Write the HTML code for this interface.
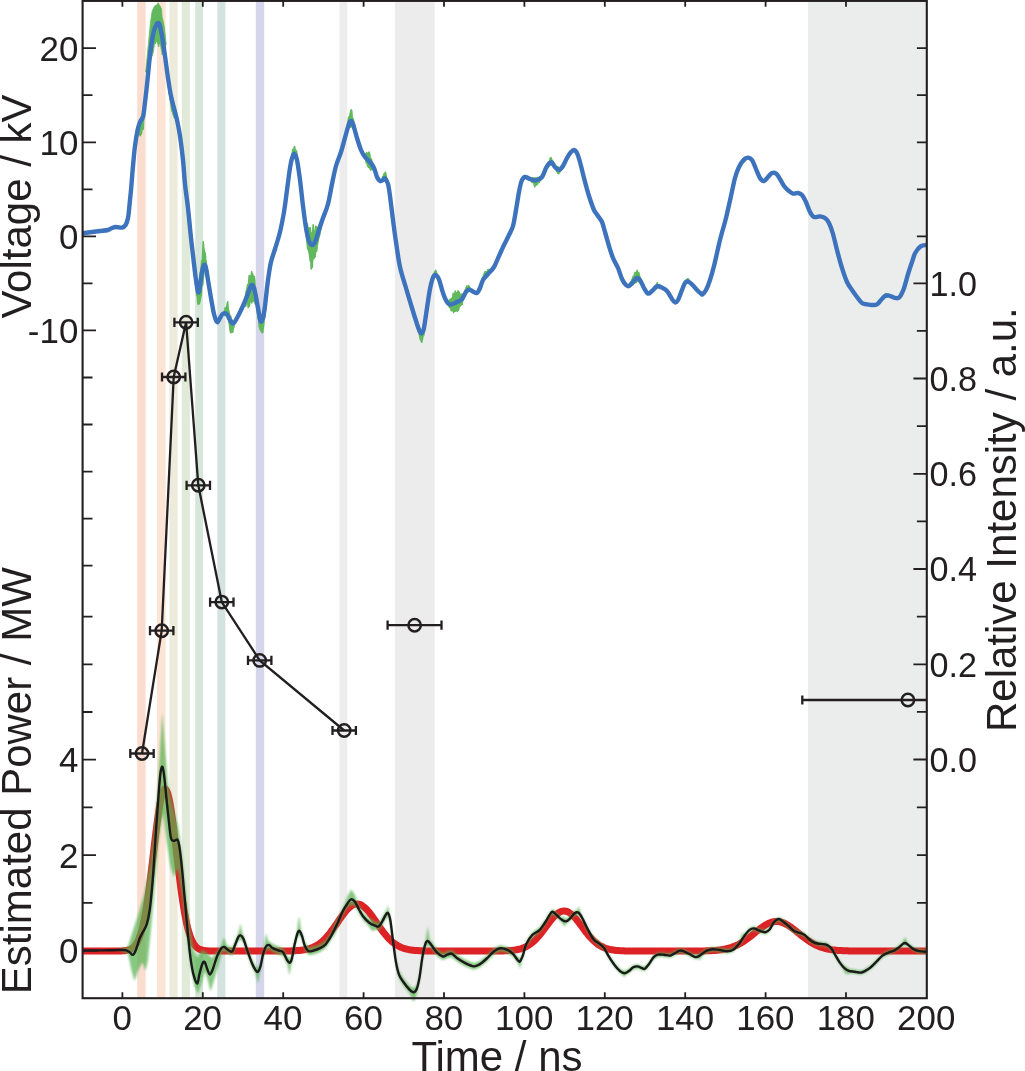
<!DOCTYPE html>
<html lang="en"><head><meta charset="utf-8"><title>Voltage, intensity and power vs time</title>
<style>html,body{margin:0;padding:0;background:#fff}svg{display:block}</style></head>
<body>
<svg width="1025" height="1071" viewBox="0 0 1025 1071">
<defs><clipPath id="cp"><rect x="82.6" y="0.9" width="844.2" height="1001.3"/></clipPath>
<filter id="b1" x="-5%" y="-5%" width="110%" height="110%"><feGaussianBlur stdDeviation="0.7"/></filter>
<filter id="b2" x="-5%" y="-20%" width="110%" height="140%"><feGaussianBlur stdDeviation="1.1"/></filter><filter id="b3" x="-5%" y="-20%" width="110%" height="140%"><feGaussianBlur stdDeviation="0.55"/></filter></defs>
<rect width="1025" height="1071" fill="#fff"/>
<g filter="url(#b1)">
<rect x="137.2" y="0.9" width="8.4" height="997.3" fill="#fbddd0"/>
<rect x="157.0" y="0.9" width="8.6" height="997.3" fill="#fde4d5"/>
<rect x="169.4" y="0.9" width="8.2" height="997.3" fill="#ecebdc"/>
<rect x="181.8" y="0.9" width="8.1" height="997.3" fill="#e1ead9"/>
<rect x="195.2" y="0.9" width="7.8" height="997.3" fill="#d7e6da"/>
<rect x="217.3" y="0.9" width="8.1" height="997.3" fill="#d4e3e0"/>
<rect x="255.8" y="0.9" width="8.4" height="997.3" fill="#d5d6ec"/>
<rect x="339.4" y="0.9" width="7.9" height="997.3" fill="#ededed"/>
<rect x="394.9" y="0.9" width="39.8" height="997.3" fill="#ececec"/>
<rect x="808.0" y="0.9" width="119.2" height="997.3" fill="#ebeded"/>
</g>
<g clip-path="url(#cp)">
<path d="M82.7 232.3L83.2 232.5L83.7 232.5L84.2 232.7L84.7 232.4L85.2 232.3L85.7 232.2L86.2 232.2L86.7 232.1L87.2 232.1L87.7 232.2L88.2 231.8L88.7 231.7L89.2 231.5L89.7 231.7L90.2 231.7L90.7 231.6L91.2 231.7L91.7 231.3L92.2 231.5L92.7 231.5L93.2 231.3L93.7 231.0L94.2 231.1L94.7 231.2L95.2 231.1L95.7 230.8L96.2 230.9L96.7 230.9L97.2 230.8L97.7 230.6L98.2 230.3L98.7 230.7L99.2 230.6L99.7 230.6L100.2 230.7L100.7 230.5L101.2 230.4L101.7 230.0L102.2 230.1L102.7 230.3L103.2 229.9L103.7 230.0L104.2 230.1L104.7 229.9L105.2 229.8L105.7 229.8L106.2 229.6L106.7 229.9L107.2 229.5L107.7 229.3L108.2 229.2L108.7 228.9L109.2 228.6L109.7 228.3L110.2 228.5L110.7 227.9L111.2 228.1L111.7 227.6L112.2 227.6L112.7 227.1L113.2 226.9L113.7 227.0L114.2 226.6L114.7 226.8L115.2 226.6L115.7 226.5L116.2 226.6L116.7 226.4L117.2 226.2L117.7 226.7L118.2 226.5L118.7 226.7L119.2 226.5L119.7 226.7L120.2 226.7L120.7 226.8L121.2 226.9L121.7 227.2L122.2 226.6L122.7 226.7L123.2 226.1L123.7 225.7L124.2 225.5L124.7 225.0L125.2 224.5L125.7 224.1L126.2 222.8L126.7 221.6L127.2 219.9L127.7 218.4L128.2 215.7L128.7 211.4L129.2 206.8L129.7 202.5L130.2 197.4L130.7 192.3L131.2 187.1L131.7 181.0L132.2 174.7L132.7 168.9L133.2 163.6L133.7 158.4L134.2 153.3L134.7 148.2L135.2 144.1L135.7 141.2L136.2 138.1L136.7 134.8L137.2 131.8L137.7 129.1L138.2 127.3L138.7 125.3L139.2 122.9L139.7 121.4L140.2 119.2L140.7 117.8L141.2 116.8L141.7 116.9L142.2 114.9L142.7 115.6L143.2 113.4L143.7 110.6L144.2 107.6L144.7 103.8L145.2 99.8L145.7 95.4L146.2 90.9L146.7 86.6L147.2 82.2L147.7 77.5L148.2 72.4L148.7 67.7L149.2 63.1L149.7 58.1L150.2 53.0L150.7 48.2L151.2 43.0L151.7 40.1L152.2 37.6L152.7 32.8L153.2 27.3L153.7 24.3L154.2 19.7L154.7 21.8L155.2 16.2L155.7 14.7L156.2 14.1L156.7 9.8L157.2 10.0L157.7 13.7L158.2 6.8L158.7 15.1L159.2 11.5L159.7 14.5L160.2 16.3L160.7 22.1L161.2 23.3L161.7 26.4L162.2 27.6L162.7 35.1L163.2 37.7L163.7 42.4L164.2 47.7L164.7 48.5L165.2 55.1L165.7 60.3L166.2 64.0L166.7 68.0L167.2 71.5L167.7 75.1L168.2 78.6L168.7 81.4L169.2 84.2L169.7 87.0L170.2 90.3L170.7 93.1L171.2 95.1L171.7 96.4L172.2 98.6L172.7 100.2L173.2 102.9L173.7 105.5L174.2 107.5L174.7 110.2L175.2 112.1L175.7 114.2L176.2 116.2L176.7 118.1L177.2 120.6L177.7 123.2L178.2 126.0L178.7 128.5L179.2 131.1L179.7 133.7L180.2 137.1L180.7 140.7L181.2 144.8L181.7 149.0L182.2 153.1L182.7 157.0L183.2 161.8L183.7 167.8L184.2 173.7L184.7 179.7L185.2 184.8L185.7 188.8L186.2 193.0L186.7 196.9L187.2 201.1L187.7 205.1L188.2 209.1L188.7 214.5L189.2 219.1L189.7 224.5L190.2 229.4L190.7 234.2L191.2 239.1L191.7 243.4L192.2 247.8L192.7 252.2L193.2 256.5L193.7 260.9L194.2 264.8L194.7 269.0L195.2 272.4L195.7 277.2L196.2 279.8L196.7 282.4L197.2 285.5L197.7 287.6L198.2 289.0L198.7 288.4L199.2 286.8L199.7 281.2L200.2 277.4L200.7 271.4L201.2 267.5L201.7 260.7L202.2 262.1L202.7 254.7L203.2 241.9L203.7 247.6L204.2 250.4L204.7 252.0L205.2 253.4L205.7 259.4L206.2 261.8L206.7 269.2L207.2 274.6L207.7 277.3L208.2 281.0L208.7 283.7L209.2 286.6L209.7 289.7L210.2 292.6L210.7 295.7L211.2 298.6L211.7 300.8L212.2 303.7L212.7 306.5L213.2 308.9L213.7 311.8L214.2 313.8L214.7 315.2L215.2 316.4L215.7 318.1L216.2 319.2L216.7 320.6L217.2 321.3L217.7 320.3L218.2 319.9L218.7 318.9L219.2 318.4L219.7 317.7L220.2 317.1L220.7 316.2L221.2 315.9L221.7 314.9L222.2 314.3L222.7 313.4L223.2 313.0L223.7 313.0L224.2 313.0L224.7 310.2L225.2 307.9L225.7 309.3L226.2 308.0L226.7 306.5L227.2 303.7L227.7 301.8L228.2 309.9L228.7 310.3L229.2 313.0L229.7 314.8L230.2 317.1L230.7 316.3L231.2 319.4L231.7 319.7L232.2 320.8L232.7 322.3L233.2 322.5L233.7 321.9L234.2 321.1L234.7 320.7L235.2 320.1L235.7 319.2L236.2 318.5L236.7 317.9L237.2 316.8L237.7 316.0L238.2 314.9L238.7 314.1L239.2 313.0L239.7 312.0L240.2 311.3L240.7 310.0L241.2 309.3L241.7 308.0L242.2 307.1L242.7 305.4L243.2 304.5L243.7 303.1L244.2 300.5L244.7 299.6L245.2 298.7L245.7 294.9L246.2 291.3L246.7 290.4L247.2 287.2L247.7 284.6L248.2 287.5L248.7 281.7L249.2 275.5L249.7 279.8L250.2 282.2L250.7 276.0L251.2 275.5L251.7 271.7L252.2 275.8L252.7 274.0L253.2 282.3L253.7 276.1L254.2 276.5L254.7 279.5L255.2 288.0L255.7 287.8L256.2 295.7L256.7 294.8L257.2 298.7L257.7 303.2L258.2 305.3L258.7 308.5L259.2 310.1L259.7 313.0L260.2 315.2L260.7 318.9L261.2 317.5L261.7 316.4L262.2 315.3L262.7 315.2L263.2 312.8L263.7 311.7L264.2 308.6L264.7 305.5L265.2 302.5L265.7 298.2L266.2 294.5L266.7 290.0L267.2 286.4L267.7 281.8L268.2 278.2L268.7 275.0L269.2 272.4L269.7 269.1L270.2 266.3L270.7 263.2L271.2 260.6L271.7 259.3L272.2 257.7L272.7 256.0L273.2 254.2L273.7 252.9L274.2 251.0L274.7 249.6L275.2 247.9L275.7 246.1L276.2 244.3L276.7 242.7L277.2 241.0L277.7 239.2L278.2 237.6L278.7 236.2L279.2 234.2L279.7 232.4L280.2 230.2L280.7 227.6L281.2 225.3L281.7 222.9L282.2 220.5L282.7 217.9L283.2 215.3L283.7 212.7L284.2 210.1L284.7 206.2L285.2 202.5L285.7 198.7L286.2 195.2L286.7 191.7L287.2 188.0L287.7 184.3L288.2 180.7L288.7 176.8L289.2 173.1L289.7 169.5L290.2 166.3L290.7 164.2L291.2 160.2L291.7 157.2L292.2 153.5L292.7 149.5L293.2 149.5L293.7 151.3L294.2 146.8L294.7 147.0L295.2 150.6L295.7 151.1L296.2 150.5L296.7 152.1L297.2 157.9L297.7 161.1L298.2 166.0L298.7 170.9L299.2 174.1L299.7 177.4L300.2 181.1L300.7 185.7L301.2 189.9L301.7 194.0L302.2 198.3L302.7 202.5L303.2 206.8L303.7 208.4L304.2 211.6L304.7 216.1L305.2 216.8L305.7 221.0L306.2 222.1L306.7 224.5L307.2 223.6L307.7 226.8L308.2 229.4L308.7 228.0L309.2 230.6L309.7 232.3L310.2 227.7L310.7 232.5L311.2 233.4L311.7 233.2L312.2 236.1L312.7 232.5L313.2 224.7L313.7 233.7L314.2 231.0L314.7 234.2L315.2 232.4L315.7 226.2L316.2 227.0L316.7 229.6L317.2 227.4L317.7 228.1L318.2 227.1L318.7 226.4L319.2 225.5L319.7 223.3L320.2 222.4L320.7 222.0L321.2 221.8L321.7 221.5L322.2 219.8L322.7 218.4L323.2 216.7L323.7 215.4L324.2 213.9L324.7 212.7L325.2 211.5L325.7 209.7L326.2 208.3L326.7 207.3L327.2 205.6L327.7 204.1L328.2 202.6L328.7 199.6L329.2 197.5L329.7 195.1L330.2 192.2L330.7 189.9L331.2 187.5L331.7 184.8L332.2 182.8L332.7 180.0L333.2 178.1L333.7 175.7L334.2 173.6L334.7 171.2L335.2 168.9L335.7 166.9L336.2 164.7L336.7 163.5L337.2 162.1L337.7 160.7L338.2 159.4L338.7 158.0L339.2 156.3L339.7 155.1L340.2 153.5L340.7 152.2L341.2 150.8L341.7 149.2L342.2 147.2L342.7 145.2L343.2 143.5L343.7 141.8L344.2 139.7L344.7 138.3L345.2 136.5L345.7 133.7L346.2 129.7L346.7 128.1L347.2 127.0L347.7 122.8L348.2 120.1L348.7 117.1L349.2 117.3L349.7 116.7L350.2 113.5L350.7 111.7L351.2 109.8L351.7 110.6L352.2 117.3L352.7 118.3L353.2 119.5L353.7 122.2L354.2 124.0L354.7 126.7L355.2 129.6L355.7 132.3L356.2 134.6L356.7 136.5L357.2 138.2L357.7 139.7L358.2 141.2L358.7 142.8L359.2 143.9L359.7 145.5L360.2 147.1L360.7 148.6L361.2 150.0L361.7 150.8L362.2 151.2L362.7 152.7L363.2 153.2L363.7 154.0L364.2 154.4L364.7 154.7L365.2 154.0L365.7 155.3L366.2 153.8L366.7 152.6L367.2 155.5L367.7 155.2L368.2 153.8L368.7 152.4L369.2 152.1L369.7 154.4L370.2 157.5L370.7 159.3L371.2 158.9L371.7 160.1L372.2 162.8L372.7 163.2L373.2 164.5L373.7 165.8L374.2 168.1L374.7 169.4L375.2 171.2L375.7 172.6L376.2 174.0L376.7 175.3L377.2 176.3L377.7 177.3L378.2 177.9L378.7 178.5L379.2 179.5L379.7 179.9L380.2 180.5L380.7 179.9L381.2 179.8L381.7 179.8L382.2 179.1L382.7 176.7L383.2 176.4L383.7 175.3L384.2 173.5L384.7 175.5L385.2 172.4L385.7 173.5L386.2 176.1L386.7 178.0L387.2 180.5L387.7 181.5L388.2 184.6L388.7 187.6L389.2 190.7L389.7 193.5L390.2 196.8L390.7 200.9L391.2 204.9L391.7 208.8L392.2 212.8L392.7 217.0L393.2 220.9L393.7 224.6L394.2 228.2L394.7 231.8L395.2 235.4L395.7 239.3L396.2 242.6L396.7 245.9L397.2 248.7L397.7 252.1L398.2 255.1L398.7 258.4L399.2 261.4L399.7 264.6L400.2 266.8L400.7 268.8L401.2 270.6L401.7 272.5L402.2 274.2L402.7 275.8L403.2 277.4L403.7 279.6L404.2 281.2L404.7 282.9L405.2 284.7L405.7 286.6L406.2 288.1L406.7 289.6L407.2 291.6L407.7 293.0L408.2 294.6L408.7 296.3L409.2 298.1L409.7 299.4L410.2 301.3L410.7 303.2L411.2 304.6L411.7 306.6L412.2 307.9L412.7 309.8L413.2 311.1L413.7 312.9L414.2 314.3L414.7 315.9L415.2 317.6L415.7 319.2L416.2 320.7L416.7 322.7L417.2 323.7L417.7 324.8L418.2 325.9L418.7 327.0L419.2 327.6L419.7 329.5L420.2 330.0L420.7 330.4L421.2 329.9L421.7 332.0L422.2 330.2L422.7 330.0L423.2 329.4L423.7 327.9L424.2 325.7L424.7 322.5L425.2 319.4L425.7 315.9L426.2 312.7L426.7 309.4L427.2 306.5L427.7 302.9L428.2 299.6L428.7 296.7L429.2 293.7L429.7 290.5L430.2 287.4L430.7 285.8L431.2 283.9L431.7 282.0L432.2 279.5L432.7 277.4L433.2 275.8L433.7 275.3L434.2 273.6L434.7 271.8L435.2 271.8L435.7 270.3L436.2 272.1L436.7 273.2L437.2 274.3L437.7 275.5L438.2 276.2L438.7 277.7L439.2 279.6L439.7 281.2L440.2 283.0L440.7 284.6L441.2 286.3L441.7 288.0L442.2 289.9L442.7 291.3L443.2 292.7L443.7 294.2L444.2 294.9L444.7 296.2L445.2 297.4L445.7 298.7L446.2 299.4L446.7 300.9L447.2 301.2L447.7 300.5L448.2 301.1L448.7 301.0L449.2 301.1L449.7 300.1L450.2 299.2L450.7 299.2L451.2 298.8L451.7 299.1L452.2 297.8L452.7 298.5L453.2 293.4L453.7 295.8L454.2 299.3L454.7 297.1L455.2 291.0L455.7 296.8L456.2 294.5L456.7 292.8L457.2 296.0L457.7 291.9L458.2 290.9L458.7 295.5L459.2 292.4L459.7 295.7L460.2 295.9L460.7 294.3L461.2 294.4L461.7 295.5L462.2 294.0L462.7 295.7L463.2 294.7L463.7 294.3L464.2 292.8L464.7 291.2L465.2 289.8L465.7 290.0L466.2 287.5L466.7 286.2L467.2 288.1L467.7 287.2L468.2 285.8L468.7 285.9L469.2 286.8L469.7 287.5L470.2 288.5L470.7 289.6L471.2 290.0L471.7 290.4L472.2 290.5L472.7 290.8L473.2 290.6L473.7 291.1L474.2 291.4L474.7 291.6L475.2 291.7L475.7 292.0L476.2 292.0L476.7 292.3L477.2 291.9L477.7 291.3L478.2 290.3L478.7 289.4L479.2 288.6L479.7 287.0L480.2 285.5L480.7 284.1L481.2 282.5L481.7 281.9L482.2 277.9L482.7 278.1L483.2 277.1L483.7 274.3L484.2 276.1L484.7 272.0L485.2 271.9L485.7 271.5L486.2 272.1L486.7 272.8L487.2 273.0L487.7 269.8L488.2 271.1L488.7 270.9L489.2 269.4L489.7 270.4L490.2 270.0L490.7 269.8L491.2 269.6L491.7 269.2L492.2 268.6L492.7 267.7L493.2 267.2L493.7 267.1L494.2 266.3L494.7 264.8L495.2 263.8L495.7 262.7L496.2 261.4L496.7 260.7L497.2 259.2L497.7 258.2L498.2 257.1L498.7 256.0L499.2 254.8L499.7 253.9L500.2 252.8L500.7 251.5L501.2 250.5L501.7 249.6L502.2 248.2L502.7 247.1L503.2 245.9L503.7 245.0L504.2 243.9L504.7 243.1L505.2 242.1L505.7 241.0L506.2 240.0L506.7 239.1L507.2 237.7L507.7 237.2L508.2 236.1L508.7 235.1L509.2 233.8L509.7 232.9L510.2 231.7L510.7 230.7L511.2 229.6L511.7 228.5L512.2 227.0L512.7 226.0L513.2 224.2L513.7 221.8L514.2 218.6L514.7 216.5L515.2 214.0L515.7 211.0L516.2 208.2L516.7 205.1L517.2 202.4L517.7 199.1L518.2 195.9L518.7 193.3L519.2 190.7L519.7 188.7L520.2 186.3L520.7 184.1L521.2 182.0L521.7 180.2L522.2 179.5L522.7 179.1L523.2 178.4L523.7 178.1L524.2 177.5L524.7 176.7L525.2 176.6L525.7 176.6L526.2 176.7L526.7 177.0L527.2 177.4L527.7 177.6L528.2 177.5L528.7 178.0L529.2 178.1L529.7 178.3L530.2 178.4L530.7 178.4L531.2 178.6L531.7 178.8L532.2 178.1L532.7 178.4L533.2 178.2L533.7 178.4L534.2 178.1L534.7 177.9L535.2 177.8L535.7 178.5L536.2 178.5L536.7 178.0L537.2 177.9L537.7 177.6L538.2 178.0L538.7 178.3L539.2 177.3L539.7 177.0L540.2 177.0L540.7 176.6L541.2 176.7L541.7 176.6L542.2 175.8L542.7 174.8L543.2 173.5L543.7 172.5L544.2 171.4L544.7 170.3L545.2 169.2L545.7 168.3L546.2 167.1L546.7 166.7L547.2 165.6L547.7 164.2L548.2 162.4L548.7 161.8L549.2 161.5L549.7 161.5L550.2 158.1L550.7 160.4L551.2 157.9L551.7 161.1L552.2 160.2L552.7 160.9L553.2 162.3L553.7 163.6L554.2 165.0L554.7 166.1L555.2 166.2L555.7 166.4L556.2 166.7L556.7 166.7L557.2 167.4L557.7 166.7L558.2 166.9L558.7 168.4L559.2 168.3L559.7 167.7L560.2 167.9L560.7 167.0L561.2 167.0L561.7 166.7L562.2 166.1L562.7 165.5L563.2 165.2L563.7 163.9L564.2 163.0L564.7 162.0L565.2 160.9L565.7 160.1L566.2 159.2L566.7 158.2L567.2 157.1L567.7 156.3L568.2 155.6L568.7 154.9L569.2 154.1L569.7 153.2L570.2 152.5L570.7 152.0L571.2 151.3L571.7 150.8L572.2 150.7L572.7 150.3L573.2 149.9L573.7 149.8L574.2 149.5L574.7 150.4L575.2 150.4L575.7 151.2L576.2 151.8L576.7 152.1L577.2 153.3L577.7 154.4L578.2 155.9L578.7 157.6L579.2 159.1L579.7 160.4L580.2 162.3L580.7 164.2L581.2 166.1L581.7 168.0L582.2 170.3L582.7 172.2L583.2 174.0L583.7 176.6L584.2 178.2L584.7 180.2L585.2 182.0L585.7 183.2L586.2 185.3L586.7 186.9L587.2 189.0L587.7 190.6L588.2 192.6L588.7 194.4L589.2 196.0L589.7 197.3L590.2 198.5L590.7 200.2L591.2 201.5L591.7 203.0L592.2 204.3L592.7 206.0L593.2 207.0L593.7 208.6L594.2 209.7L594.7 210.5L595.2 211.1L595.7 211.9L596.2 212.7L596.7 213.4L597.2 214.1L597.7 214.8L598.2 215.6L598.7 216.3L599.2 217.0L599.7 217.9L600.2 218.9L600.7 219.2L601.2 219.9L601.7 221.0L602.2 222.1L602.7 224.0L603.2 225.3L603.7 227.2L604.2 228.5L604.7 230.8L605.2 232.1L605.7 233.7L606.2 235.7L606.7 237.5L607.2 239.1L607.7 240.9L608.2 242.7L608.7 244.4L609.2 246.1L609.7 247.5L610.2 248.9L610.7 250.6L611.2 252.0L611.7 253.6L612.2 254.9L612.7 256.7L613.2 257.7L613.7 259.2L614.2 259.9L614.7 261.0L615.2 261.6L615.7 262.8L616.2 264.0L616.7 264.9L617.2 265.6L617.7 266.8L618.2 267.9L618.7 269.6L619.2 270.9L619.7 272.0L620.2 273.1L620.7 274.9L621.2 276.1L621.7 277.7L622.2 278.5L622.7 279.5L623.2 280.3L623.7 281.2L624.2 281.8L624.7 282.4L625.2 283.0L625.7 284.1L626.2 284.3L626.7 284.7L627.2 284.8L627.7 285.1L628.2 285.4L628.7 285.5L629.2 285.0L629.7 284.7L630.2 283.5L630.7 281.7L631.2 282.6L631.7 279.9L632.2 279.7L632.7 278.1L633.2 276.3L633.7 276.5L634.2 275.7L634.7 273.4L635.2 272.5L635.7 273.9L636.2 272.4L636.7 274.1L637.2 270.3L637.7 274.7L638.2 273.5L638.7 272.5L639.2 274.5L639.7 276.4L640.2 277.8L640.7 279.2L641.2 279.8L641.7 281.7L642.2 283.5L642.7 284.4L643.2 285.9L643.7 286.9L644.2 287.7L644.7 288.4L645.2 289.0L645.7 289.8L646.2 290.4L646.7 291.1L647.2 291.9L647.7 292.9L648.2 292.8L648.7 292.7L649.2 292.3L649.7 291.9L650.2 291.8L650.7 291.4L651.2 290.9L651.7 290.7L652.2 290.2L652.7 289.9L653.2 289.3L653.7 288.9L654.2 287.9L654.7 286.9L655.2 286.3L655.7 286.2L656.2 284.8L656.7 283.8L657.2 282.8L657.7 284.1L658.2 284.7L658.7 285.5L659.2 284.6L659.7 286.1L660.2 286.6L660.7 286.7L661.2 287.1L661.7 286.8L662.2 287.1L662.7 287.4L663.2 288.0L663.7 288.2L664.2 288.4L664.7 288.7L665.2 288.8L665.7 289.4L666.2 290.2L666.7 290.2L667.2 290.8L667.7 291.4L668.2 292.3L668.7 293.1L669.2 294.0L669.7 294.6L670.2 295.3L670.7 296.4L671.2 297.4L671.7 298.1L672.2 298.4L672.7 299.2L673.2 299.8L673.7 300.5L674.2 300.7L674.7 301.4L675.2 301.7L675.7 301.3L676.2 300.9L676.7 300.5L677.2 300.0L677.7 299.5L678.2 299.2L678.7 297.9L679.2 296.4L679.7 295.1L680.2 294.1L680.7 292.8L681.2 291.5L681.7 290.2L682.2 289.0L682.7 287.8L683.2 286.5L683.7 285.3L684.2 284.2L684.7 282.9L685.2 282.0L685.7 281.3L686.2 280.3L686.7 280.0L687.2 279.0L687.7 278.8L688.2 278.9L688.7 279.3L689.2 281.1L689.7 281.0L690.2 281.8L690.7 282.0L691.2 283.1L691.7 283.6L692.2 284.1L692.7 284.5L693.2 285.0L693.7 285.7L694.2 286.3L694.7 286.8L695.2 287.3L695.7 288.0L696.2 288.5L696.7 289.1L697.2 289.7L697.7 290.0L698.2 290.4L698.7 291.1L699.2 291.2L699.7 292.0L700.2 292.2L700.7 292.7L701.2 293.4L701.7 293.4L702.2 293.9L702.7 293.5L703.2 292.7L703.7 291.9L704.2 291.5L704.7 291.2L705.2 290.4L705.7 289.6L706.2 288.9L706.7 287.4L707.2 286.5L707.7 285.2L708.2 284.1L708.7 282.7L709.2 281.2L709.7 280.3L710.2 278.6L710.7 276.9L711.2 275.1L711.7 273.5L712.2 271.7L712.7 269.6L713.2 268.4L713.7 266.3L714.2 264.3L714.7 262.3L715.2 260.0L715.7 258.4L716.2 255.9L716.7 253.9L717.2 251.6L717.7 249.4L718.2 247.1L718.7 245.2L719.2 242.7L719.7 241.0L720.2 238.5L720.7 236.9L721.2 235.3L721.7 233.4L722.2 231.6L722.7 229.7L723.2 227.7L723.7 225.7L724.2 223.9L724.7 222.4L725.2 220.7L725.7 218.6L726.2 216.8L726.7 214.4L727.2 212.2L727.7 209.6L728.2 208.0L728.7 205.5L729.2 203.1L729.7 201.2L730.2 199.1L730.7 196.5L731.2 194.8L731.7 192.5L732.2 190.2L732.7 187.7L733.2 185.4L733.7 183.3L734.2 180.7L734.7 178.8L735.2 176.9L735.7 175.5L736.2 173.9L736.7 172.7L737.2 171.4L737.7 169.7L738.2 168.4L738.7 167.1L739.2 166.3L739.7 165.5L740.2 164.7L740.7 163.9L741.2 163.1L741.7 162.1L742.2 160.8L742.7 160.5L743.2 159.0L743.7 158.4L744.2 157.9L744.7 157.7L745.2 157.2L745.7 157.4L746.2 157.7L746.7 157.4L747.2 157.4L747.7 157.1L748.2 157.2L748.7 157.3L749.2 157.7L749.7 158.2L750.2 158.5L750.7 158.8L751.2 158.9L751.7 159.3L752.2 159.9L752.7 161.0L753.2 161.9L753.7 162.9L754.2 164.4L754.7 165.2L755.2 166.5L755.7 167.5L756.2 168.9L756.7 170.2L757.2 171.0L757.7 172.0L758.2 173.6L758.7 174.5L759.2 175.6L759.7 176.6L760.2 177.7L760.7 178.0L761.2 178.2L761.7 178.4L762.2 179.0L762.7 179.3L763.2 179.8L763.7 180.1L764.2 180.3L764.7 179.7L765.2 179.3L765.7 178.7L766.2 178.0L766.7 177.7L767.2 177.1L767.7 176.8L768.2 176.1L768.7 176.1L769.2 175.4L769.7 174.8L770.2 174.5L770.7 173.6L771.2 173.2L771.7 172.8L772.2 172.4L772.7 172.7L773.2 172.7L773.7 172.7L774.2 173.0L774.7 172.6L775.2 173.0L775.7 172.8L776.2 173.3L776.7 173.9L777.2 174.8L777.7 175.3L778.2 176.0L778.7 176.6L779.2 177.1L779.7 178.1L780.2 178.8L780.7 179.6L781.2 180.4L781.7 181.4L782.2 182.3L782.7 183.2L783.2 184.0L783.7 184.8L784.2 185.7L784.7 186.1L785.2 186.5L785.7 187.1L786.2 187.7L786.7 188.0L787.2 188.5L787.7 189.0L788.2 189.5L788.7 190.2L789.2 190.5L789.7 190.8L790.2 191.2L790.7 191.8L791.2 191.8L791.7 192.1L792.2 192.4L792.7 192.8L793.2 193.0L793.7 193.2L794.2 193.1L794.7 193.2L795.2 192.8L795.7 192.4L796.2 192.4L796.7 192.7L797.2 192.4L797.7 192.2L798.2 192.5L798.7 193.0L799.2 192.8L799.7 193.3L800.2 193.6L800.7 193.5L801.2 193.9L801.7 194.1L802.2 194.5L802.7 195.6L803.2 196.6L803.7 197.3L804.2 198.2L804.7 199.0L805.2 199.9L805.7 201.0L806.2 201.9L806.7 203.2L807.2 204.4L807.7 205.7L808.2 206.8L808.7 208.1L809.2 209.6L809.7 210.5L810.2 211.9L810.7 211.9L811.2 213.0L811.7 213.5L812.2 213.9L812.7 214.8L813.2 215.6L813.7 216.2L814.2 216.3L814.7 216.3L815.2 216.1L815.7 216.2L816.2 216.2L816.7 216.1L817.2 215.9L817.7 216.1L818.2 215.6L818.7 216.0L819.2 215.7L819.7 215.5L820.2 215.7L820.7 216.0L821.2 216.1L821.7 216.1L822.2 216.9L822.7 216.6L823.2 216.9L823.7 217.1L824.2 217.1L824.7 217.3L825.2 217.6L825.7 218.4L826.2 218.7L826.7 219.8L827.2 220.3L827.7 221.0L828.2 221.4L828.7 222.1L829.2 222.9L829.7 224.4L830.2 225.5L830.7 227.0L831.2 228.5L831.7 230.1L832.2 231.4L832.7 232.8L833.2 234.0L833.7 236.1L834.2 238.4L834.7 239.9L835.2 242.2L835.7 244.5L836.2 246.0L836.7 248.0L837.2 250.1L837.7 252.1L838.2 253.5L838.7 255.6L839.2 257.3L839.7 259.0L840.2 260.9L840.7 262.8L841.2 264.7L841.7 266.2L842.2 268.3L842.7 269.3L843.2 270.7L843.7 272.1L844.2 273.6L844.7 274.9L845.2 276.2L845.7 277.9L846.2 279.2L846.7 280.5L847.2 281.9L847.7 282.7L848.2 283.1L848.7 284.0L849.2 285.0L849.7 285.6L850.2 286.5L850.7 287.1L851.2 287.9L851.7 289.3L852.2 289.7L852.7 290.2L853.2 290.8L853.7 291.9L854.2 292.7L854.7 293.1L855.2 294.0L855.7 294.6L856.2 295.5L856.7 295.9L857.2 296.6L857.7 297.2L858.2 298.0L858.7 298.7L859.2 299.2L859.7 299.6L860.2 300.5L860.7 300.7L861.2 301.2L861.7 302.1L862.2 302.5L862.7 302.4L863.2 302.6L863.7 303.0L864.2 303.0L864.7 303.1L865.2 303.3L865.7 303.3L866.2 303.5L866.7 303.5L867.2 304.1L867.7 303.7L868.2 303.8L868.7 304.0L869.2 304.0L869.7 304.0L870.2 304.1L870.7 304.3L871.2 304.3L871.7 304.5L872.2 304.6L872.7 304.4L873.2 304.4L873.7 304.2L874.2 304.0L874.7 304.0L875.2 303.8L875.7 304.0L876.2 304.0L876.7 303.9L877.2 303.7L877.7 303.1L878.2 302.3L878.7 302.1L879.2 301.3L879.7 300.8L880.2 300.2L880.7 299.8L881.2 299.1L881.7 298.8L882.2 298.1L882.7 298.0L883.2 296.9L883.7 296.1L884.2 296.0L884.7 294.5L885.2 294.8L885.7 293.6L886.2 293.9L886.7 293.8L887.2 294.1L887.7 294.8L888.2 294.2L888.7 294.5L889.2 295.2L889.7 295.2L890.2 295.4L890.7 295.8L891.2 296.0L891.7 295.9L892.2 296.3L892.7 296.3L893.2 296.4L893.7 296.8L894.2 297.1L894.7 296.9L895.2 297.2L895.7 297.2L896.2 296.7L896.7 297.2L897.2 297.0L897.7 297.2L898.2 297.1L898.7 297.1L899.2 297.1L899.7 295.9L900.2 294.8L900.7 293.8L901.2 293.0L901.7 292.2L902.2 291.1L902.7 290.3L903.2 289.4L903.7 288.4L904.2 286.3L904.7 285.1L905.2 283.1L905.7 281.5L906.2 280.0L906.7 278.2L907.2 276.4L907.7 274.7L908.2 272.9L908.7 271.5L909.2 270.0L909.7 268.2L910.2 266.9L910.7 265.5L911.2 263.9L911.7 262.1L912.2 261.0L912.7 259.6L913.2 257.9L913.7 256.3L914.2 255.0L914.7 254.0L915.2 252.7L915.7 251.6L916.2 251.2L916.7 250.5L917.2 250.0L917.7 249.1L918.2 248.7L918.7 248.2L919.2 247.5L919.7 247.1L920.2 246.3L920.7 245.8L921.2 246.0L921.7 245.7L922.2 245.6L922.7 245.5L923.2 245.1L923.7 244.9L924.2 244.9L924.7 245.0L925.2 245.0L925.7 244.5L926.2 244.5L926.2 245.8L925.7 245.8L925.2 246.0L924.7 246.0L924.2 246.1L923.7 246.1L923.2 246.4L922.7 246.3L922.2 246.8L921.7 246.5L921.2 246.9L920.7 247.0L920.2 247.4L919.7 248.1L919.2 248.7L918.7 249.4L918.2 250.0L917.7 250.6L917.2 251.2L916.7 251.8L916.2 252.6L915.7 252.9L915.2 253.5L914.7 255.1L914.2 256.5L913.7 257.9L913.2 259.1L912.7 260.6L912.2 262.2L911.7 263.6L911.2 264.8L910.7 266.5L910.2 267.8L909.7 269.7L909.2 271.2L908.7 272.6L908.2 274.1L907.7 275.7L907.2 277.4L906.7 279.3L906.2 280.8L905.7 283.0L905.2 284.6L904.7 286.1L904.2 288.0L903.7 289.5L903.2 290.7L902.7 291.4L902.2 292.2L901.7 293.4L901.2 294.3L900.7 295.0L900.2 296.4L899.7 296.8L899.2 298.0L898.7 298.3L898.2 298.6L897.7 298.2L897.2 298.1L896.7 298.4L896.2 298.4L895.7 298.3L895.2 298.4L894.7 298.3L894.2 298.1L893.7 297.9L893.2 298.0L892.7 297.8L892.2 297.5L891.7 297.3L891.2 297.0L890.7 297.1L890.2 296.6L889.7 296.6L889.2 296.5L888.7 296.1L888.2 296.0L887.7 296.5L887.2 296.3L886.7 296.7L886.2 297.0L885.7 296.4L885.2 296.9L884.7 297.0L884.2 297.4L883.7 298.0L883.2 298.4L882.7 299.1L882.2 299.5L881.7 299.8L881.2 300.6L880.7 301.0L880.2 301.7L879.7 301.9L879.2 302.6L878.7 303.2L878.2 303.5L877.7 304.1L877.2 304.5L876.7 305.3L876.2 305.3L875.7 305.3L875.2 305.4L874.7 305.4L874.2 305.3L873.7 305.5L873.2 305.4L872.7 305.8L872.2 305.4L871.7 305.5L871.2 305.6L870.7 305.5L870.2 305.3L869.7 305.3L869.2 305.2L868.7 305.3L868.2 304.9L867.7 305.2L867.2 305.0L866.7 304.9L866.2 304.8L865.7 304.7L865.2 304.3L864.7 304.5L864.2 304.0L863.7 304.2L863.2 303.9L862.7 303.7L862.2 303.5L861.7 303.5L861.2 302.8L860.7 302.2L860.2 301.2L859.7 301.0L859.2 300.0L858.7 299.6L858.2 299.0L857.7 298.6L857.2 297.8L856.7 297.2L856.2 296.3L855.7 296.0L855.2 294.8L854.7 294.4L854.2 293.6L853.7 293.1L853.2 292.3L852.7 291.4L852.2 290.8L851.7 290.0L851.2 289.4L850.7 288.6L850.2 287.5L849.7 286.9L849.2 285.9L848.7 285.5L848.2 284.5L847.7 283.6L847.2 282.9L846.7 281.9L846.2 280.2L845.7 279.0L845.2 277.4L844.7 276.2L844.2 274.7L843.7 273.4L843.2 271.7L842.7 270.6L842.2 269.0L841.7 267.3L841.2 265.9L840.7 264.0L840.2 262.1L839.7 260.3L839.2 258.2L838.7 256.6L838.2 254.9L837.7 253.2L837.2 251.4L836.7 249.4L836.2 247.6L835.7 245.5L835.2 243.3L834.7 241.4L834.2 239.7L833.7 237.3L833.2 235.0L832.7 233.5L832.2 232.4L831.7 231.1L831.2 229.8L830.7 228.6L830.2 227.0L829.7 225.6L829.2 224.3L828.7 223.2L828.2 222.6L827.7 222.1L827.2 221.2L826.7 220.7L826.2 220.2L825.7 219.4L825.2 218.9L824.7 218.6L824.2 218.4L823.7 218.2L823.2 217.9L822.7 217.7L822.2 217.6L821.7 217.4L821.2 217.4L820.7 217.3L820.2 217.1L819.7 217.0L819.2 216.7L818.7 217.1L818.2 217.3L817.7 217.2L817.2 217.4L816.7 217.0L816.2 217.5L815.7 217.5L815.2 217.3L814.7 217.4L814.2 217.4L813.7 217.2L813.2 216.4L812.7 216.1L812.2 215.6L811.7 214.8L811.2 214.3L810.7 213.6L810.2 212.7L809.7 211.9L809.2 210.8L808.7 209.4L808.2 208.1L807.7 206.9L807.2 205.6L806.7 204.6L806.2 203.2L805.7 202.1L805.2 201.3L804.7 200.4L804.2 199.3L803.7 198.4L803.2 197.6L802.7 197.1L802.2 195.9L801.7 195.2L801.2 195.1L800.7 195.2L800.2 194.5L799.7 194.5L799.2 194.2L798.7 193.9L798.2 193.6L797.7 193.6L797.2 193.5L796.7 193.8L796.2 193.7L795.7 194.0L795.2 193.8L794.7 194.1L794.2 194.1L793.7 193.9L793.2 194.0L792.7 194.0L792.2 193.6L791.7 193.3L791.2 193.1L790.7 192.8L790.2 192.4L789.7 191.7L789.2 191.9L788.7 191.5L788.2 190.9L787.7 190.3L787.2 189.8L786.7 189.2L786.2 188.7L785.7 188.4L785.2 187.7L784.7 187.3L784.2 186.9L783.7 186.0L783.2 184.9L782.7 184.5L782.2 183.3L781.7 182.4L781.2 181.8L780.7 180.9L780.2 179.9L779.7 179.1L779.2 178.4L778.7 177.5L778.2 177.0L777.7 176.4L777.2 175.8L776.7 175.1L776.2 174.6L775.7 173.9L775.2 174.0L774.7 173.8L774.2 173.9L773.7 173.8L773.2 173.8L772.7 173.8L772.2 173.6L771.7 173.8L771.2 174.3L770.7 175.1L770.2 175.6L769.7 175.7L769.2 176.4L768.7 177.0L768.2 177.5L767.7 177.6L767.2 178.3L766.7 178.8L766.2 179.6L765.7 180.2L765.2 180.4L764.7 181.0L764.2 181.4L763.7 181.4L763.2 181.2L762.7 180.5L762.2 180.3L761.7 179.8L761.2 179.4L760.7 179.1L760.2 178.9L759.7 178.0L759.2 176.7L758.7 175.8L758.2 174.6L757.7 173.5L757.2 172.4L756.7 171.2L756.2 169.7L755.7 168.9L755.2 168.0L754.7 166.7L754.2 165.5L753.7 164.2L753.2 163.5L752.7 162.2L752.2 160.9L751.7 160.1L751.2 160.3L750.7 159.8L750.2 159.6L749.7 159.3L749.2 159.0L748.7 158.7L748.2 158.3L747.7 158.4L747.2 158.5L746.7 158.9L746.2 159.6L745.7 160.1L745.2 160.9L744.7 160.9L744.2 161.1L743.7 162.4L743.2 162.5L742.7 162.7L742.2 163.7L741.7 163.4L741.2 164.2L740.7 164.9L740.2 165.7L739.7 166.3L739.2 167.2L738.7 168.6L738.2 169.7L737.7 171.5L737.2 172.3L736.7 173.9L736.2 175.3L735.7 176.6L735.2 178.2L734.7 179.8L734.2 182.3L733.7 184.5L733.2 186.6L732.7 188.9L732.2 190.9L731.7 193.2L731.2 195.7L730.7 198.0L730.2 200.2L729.7 202.3L729.2 204.3L728.7 206.5L728.2 209.0L727.7 211.1L727.2 213.3L726.7 215.6L726.2 217.9L725.7 219.7L725.2 221.6L724.7 223.4L724.2 225.3L723.7 227.3L723.2 228.9L722.7 230.8L722.2 232.7L721.7 234.4L721.2 236.2L720.7 238.1L720.2 239.7L719.7 242.0L719.2 244.1L718.7 246.4L718.2 248.2L717.7 250.4L717.2 252.9L716.7 254.7L716.2 257.1L715.7 259.0L715.2 261.3L714.7 263.6L714.2 265.9L713.7 267.6L713.2 269.3L712.7 271.1L712.2 273.1L711.7 274.8L711.2 276.3L710.7 278.2L710.2 280.0L709.7 281.3L709.2 282.8L708.7 283.8L708.2 285.1L707.7 286.2L707.2 287.4L706.7 288.9L706.2 290.0L705.7 290.8L705.2 291.7L704.7 292.0L704.2 292.7L703.7 293.5L703.2 294.2L702.7 294.6L702.2 294.8L701.7 294.6L701.2 294.5L700.7 293.8L700.2 293.6L699.7 293.3L699.2 292.6L698.7 291.9L698.2 291.4L697.7 291.3L697.2 290.7L696.7 290.2L696.2 289.7L695.7 289.0L695.2 288.6L694.7 288.0L694.2 287.5L693.7 287.0L693.2 286.4L692.7 285.7L692.2 285.3L691.7 284.9L691.2 284.4L690.7 284.3L690.2 283.5L689.7 283.4L689.2 283.0L688.7 283.0L688.2 283.0L687.7 283.1L687.2 282.9L686.7 283.0L686.2 283.3L685.7 283.2L685.2 283.6L684.7 284.2L684.2 285.7L683.7 286.9L683.2 287.9L682.7 288.8L682.2 290.0L681.7 291.3L681.2 292.4L680.7 293.8L680.2 294.9L679.7 296.2L679.2 297.6L678.7 299.0L678.2 299.9L677.7 300.7L677.2 301.4L676.7 301.5L676.2 302.0L675.7 302.3L675.2 302.9L674.7 302.6L674.2 302.2L673.7 301.6L673.2 300.9L672.7 300.4L672.2 299.8L671.7 299.4L671.2 298.3L670.7 297.7L670.2 296.5L669.7 295.8L669.2 294.9L668.7 294.2L668.2 293.4L667.7 292.9L667.2 291.9L666.7 291.5L666.2 291.3L665.7 290.9L665.2 290.4L664.7 290.1L664.2 289.7L663.7 289.6L663.2 288.8L662.7 288.5L662.2 288.4L661.7 288.4L661.2 288.2L660.7 288.2L660.2 287.6L659.7 287.9L659.2 287.5L658.7 287.3L658.2 287.3L657.7 287.2L657.2 287.7L656.7 287.6L656.2 288.0L655.7 288.8L655.2 288.6L654.7 289.3L654.2 289.6L653.7 290.1L653.2 290.6L652.7 291.3L652.2 291.5L651.7 291.7L651.2 292.1L650.7 292.5L650.2 292.9L649.7 292.9L649.2 293.3L648.7 293.8L648.2 293.9L647.7 293.9L647.2 293.1L646.7 292.4L646.2 291.7L645.7 291.1L645.2 290.2L644.7 289.4L644.2 288.7L643.7 287.8L643.2 286.9L642.7 286.1L642.2 284.8L641.7 283.8L641.2 283.1L640.7 282.2L640.2 282.0L639.7 280.9L639.2 282.0L638.7 281.0L638.2 281.3L637.7 280.6L637.2 280.7L636.7 281.9L636.2 282.6L635.7 282.8L635.2 282.2L634.7 282.6L634.2 283.2L633.7 283.1L633.2 284.7L632.7 283.9L632.2 284.5L631.7 284.3L631.2 285.1L630.7 285.6L630.2 285.4L629.7 285.9L629.2 286.5L628.7 286.4L628.2 286.6L627.7 286.1L627.2 286.1L626.7 285.9L626.2 285.8L625.7 285.2L625.2 284.4L624.7 283.5L624.2 282.8L623.7 282.1L623.2 281.5L622.7 280.6L622.2 280.0L621.7 278.9L621.2 277.3L620.7 276.2L620.2 274.8L619.7 273.1L619.2 272.0L618.7 270.4L618.2 269.4L617.7 267.9L617.2 267.0L616.7 266.3L616.2 264.9L615.7 264.1L615.2 263.2L614.7 262.1L614.2 261.1L613.7 260.0L613.2 258.8L612.7 257.8L612.2 256.2L611.7 254.4L611.2 253.1L610.7 251.7L610.2 250.2L609.7 248.8L609.2 247.1L608.7 245.6L608.2 243.6L607.7 242.1L607.2 240.4L606.7 238.4L606.2 236.8L605.7 234.8L605.2 233.4L604.7 231.4L604.2 229.9L603.7 228.2L603.2 226.7L602.7 225.0L602.2 223.2L601.7 222.2L601.2 221.5L600.7 220.7L600.2 219.6L599.7 219.1L599.2 218.5L598.7 217.3L598.2 217.0L597.7 215.9L597.2 215.3L596.7 214.3L596.2 213.7L595.7 213.1L595.2 212.6L594.7 211.8L594.2 211.0L593.7 209.7L593.2 208.4L592.7 206.9L592.2 205.3L591.7 204.2L591.2 202.7L590.7 201.5L590.2 199.8L589.7 198.6L589.2 197.3L588.7 195.7L588.2 193.7L587.7 191.9L587.2 189.9L586.7 188.5L586.2 186.4L585.7 184.6L585.2 183.1L584.7 180.9L584.2 179.6L583.7 177.1L583.2 175.3L582.7 173.5L582.2 171.4L581.7 169.2L581.2 167.4L580.7 165.6L580.2 163.7L579.7 161.6L579.2 160.1L578.7 158.7L578.2 157.1L577.7 155.9L577.2 154.2L576.7 153.3L576.2 152.6L575.7 152.2L575.2 151.8L574.7 151.3L574.2 151.0L573.7 150.6L573.2 150.9L572.7 151.5L572.2 151.7L571.7 152.2L571.2 152.6L570.7 153.1L570.2 153.8L569.7 154.4L569.2 155.3L568.7 156.3L568.2 156.6L567.7 157.4L567.2 158.3L566.7 159.2L566.2 160.2L565.7 161.0L565.2 162.2L564.7 163.1L564.2 164.4L563.7 165.1L563.2 166.0L562.7 166.8L562.2 167.5L561.7 168.0L561.2 168.8L560.7 169.7L560.2 171.4L559.7 172.1L559.2 172.4L558.7 173.6L558.2 173.2L557.7 173.1L557.2 171.7L556.7 171.3L556.2 169.2L555.7 169.1L555.2 168.8L554.7 167.5L554.2 166.7L553.7 166.0L553.2 165.0L552.7 165.1L552.2 164.0L551.7 163.9L551.2 164.2L550.7 164.7L550.2 165.0L549.7 165.4L549.2 164.8L548.7 165.0L548.2 165.2L547.7 166.0L547.2 166.7L546.7 167.4L546.2 168.2L545.7 169.5L545.2 170.4L544.7 171.5L544.2 173.0L543.7 173.7L543.2 174.7L542.7 175.9L542.2 177.1L541.7 178.6L541.2 178.7L540.7 179.9L540.2 180.4L539.7 181.1L539.2 182.2L538.7 181.3L538.2 181.9L537.7 183.6L537.2 184.4L536.7 184.7L536.2 184.5L535.7 185.4L535.2 183.9L534.7 186.8L534.2 184.2L533.7 182.9L533.2 182.5L532.7 182.0L532.2 182.5L531.7 182.0L531.2 180.6L530.7 180.3L530.2 180.5L529.7 179.5L529.2 179.2L528.7 178.9L528.2 178.8L527.7 178.7L527.2 178.5L526.7 178.4L526.2 178.1L525.7 177.9L525.2 177.8L524.7 178.1L524.2 178.4L523.7 178.9L523.2 179.7L522.7 180.4L522.2 180.7L521.7 181.3L521.2 183.1L520.7 185.5L520.2 187.6L519.7 189.6L519.2 192.0L518.7 194.4L518.2 197.3L517.7 200.4L517.2 203.5L516.7 206.4L516.2 209.5L515.7 212.3L515.2 214.7L514.7 217.2L514.2 220.2L513.7 222.6L513.2 225.5L512.7 227.4L512.2 228.7L511.7 229.4L511.2 230.5L510.7 231.9L510.2 232.6L509.7 234.0L509.2 235.0L508.7 236.3L508.2 237.1L507.7 238.5L507.2 239.5L506.7 240.3L506.2 241.2L505.7 242.5L505.2 243.2L504.7 244.4L504.2 245.1L503.7 246.0L503.2 247.4L502.7 248.6L502.2 249.3L501.7 250.7L501.2 251.7L500.7 252.8L500.2 254.0L499.7 255.3L499.2 256.1L498.7 257.3L498.2 258.4L497.7 259.4L497.2 260.7L496.7 261.5L496.2 262.5L495.7 263.9L495.2 264.9L494.7 266.1L494.2 267.2L493.7 267.9L493.2 268.6L492.7 269.1L492.2 269.8L491.7 270.5L491.2 270.9L490.7 271.4L490.2 271.9L489.7 272.4L489.2 273.3L488.7 273.8L488.2 274.6L487.7 274.9L487.2 275.8L486.7 276.5L486.2 276.9L485.7 277.9L485.2 278.3L484.7 279.1L484.2 279.7L483.7 280.3L483.2 280.3L482.7 281.4L482.2 282.9L481.7 284.1L481.2 285.6L480.7 286.7L480.2 287.8L479.7 289.1L479.2 289.8L478.7 290.8L478.2 291.5L477.7 292.4L477.2 293.3L476.7 293.2L476.2 293.3L475.7 293.1L475.2 293.3L474.7 292.7L474.2 292.7L473.7 292.4L473.2 292.1L472.7 292.1L472.2 291.7L471.7 291.5L471.2 291.1L470.7 290.8L470.2 290.5L469.7 290.5L469.2 290.2L468.7 290.2L468.2 290.7L467.7 291.6L467.2 292.0L466.7 292.5L466.2 292.6L465.7 293.3L465.2 294.1L464.7 295.9L464.2 297.3L463.7 298.7L463.2 300.3L462.7 299.7L462.2 304.3L461.7 302.8L461.2 304.7L460.7 305.5L460.2 306.1L459.7 302.9L459.2 306.1L458.7 309.3L458.2 310.3L457.7 310.7L457.2 311.4L456.7 310.3L456.2 310.4L455.7 309.5L455.2 311.3L454.7 308.7L454.2 307.5L453.7 312.5L453.2 310.8L452.7 308.3L452.2 309.4L451.7 310.7L451.2 310.6L450.7 307.1L450.2 308.0L449.7 307.5L449.2 306.9L448.7 305.5L448.2 304.8L447.7 305.0L447.2 302.9L446.7 302.1L446.2 300.7L445.7 299.9L445.2 298.6L444.7 297.3L444.2 296.1L443.7 295.0L443.2 293.9L442.7 292.7L442.2 290.8L441.7 289.1L441.2 287.6L440.7 285.7L440.2 284.4L439.7 282.5L439.2 280.8L438.7 279.8L438.2 279.0L437.7 278.5L437.2 278.0L436.7 277.2L436.2 276.7L435.7 276.3L435.2 276.7L434.7 276.6L434.2 277.0L433.7 277.6L433.2 278.0L432.7 279.3L432.2 281.2L431.7 283.0L431.2 284.7L430.7 286.9L430.2 288.8L429.7 291.5L429.2 294.6L428.7 298.0L428.2 301.0L427.7 304.0L427.2 307.5L426.7 310.6L426.2 314.1L425.7 318.5L425.2 322.1L424.7 326.1L424.2 331.8L423.7 335.5L423.2 334.9L422.7 337.7L422.2 339.8L421.7 342.3L421.2 340.6L420.7 340.1L420.2 338.9L419.7 336.5L419.2 333.2L418.7 331.0L418.2 331.2L417.7 327.6L417.2 328.0L416.7 325.4L416.2 322.7L415.7 320.5L415.2 319.1L414.7 317.3L414.2 315.6L413.7 313.8L413.2 312.4L412.7 310.9L412.2 309.2L411.7 307.7L411.2 305.9L410.7 304.3L410.2 302.7L409.7 301.2L409.2 299.2L408.7 297.6L408.2 296.3L407.7 294.2L407.2 292.6L406.7 290.8L406.2 289.3L405.7 287.4L405.2 285.6L404.7 283.9L404.2 282.6L403.7 280.9L403.2 278.6L402.7 277.1L402.2 275.4L401.7 273.7L401.2 271.7L400.7 270.0L400.2 268.4L399.7 265.6L399.2 262.9L398.7 259.5L398.2 256.4L397.7 253.1L397.2 250.0L396.7 246.9L396.2 244.0L395.7 240.5L395.2 236.8L394.7 233.0L394.2 229.4L393.7 225.7L393.2 222.3L392.7 218.2L392.2 214.1L391.7 210.3L391.2 206.3L390.7 202.3L390.2 198.2L389.7 195.2L389.2 191.9L388.7 188.9L388.2 185.7L387.7 184.2L387.2 183.6L386.7 182.8L386.2 181.8L385.7 182.0L385.2 180.9L384.7 179.8L384.2 180.2L383.7 180.6L383.2 181.0L382.7 180.6L382.2 180.7L381.7 181.1L381.2 181.2L380.7 181.2L380.2 181.7L379.7 181.1L379.2 180.5L378.7 179.7L378.2 179.1L377.7 178.6L377.2 177.5L376.7 176.7L376.2 175.1L375.7 173.6L375.2 172.2L374.7 170.7L374.2 169.1L373.7 169.3L373.2 169.7L372.7 169.1L372.2 168.9L371.7 168.6L371.2 169.7L370.7 170.1L370.2 168.9L369.7 164.8L369.2 167.5L368.7 167.5L368.2 165.8L367.7 166.2L367.2 163.8L366.7 162.7L366.2 162.8L365.7 159.6L365.2 158.4L364.7 158.3L364.2 156.6L363.7 155.5L363.2 154.4L362.7 153.6L362.2 152.6L361.7 151.9L361.2 150.9L360.7 149.9L360.2 148.2L359.7 146.8L359.2 145.4L358.7 143.6L358.2 142.0L357.7 140.9L357.2 138.9L356.7 137.6L356.2 135.9L355.7 133.9L355.2 132.1L354.7 131.0L354.2 129.4L353.7 128.6L353.2 127.1L352.7 125.6L352.2 127.2L351.7 124.9L351.2 124.2L350.7 125.5L350.2 127.2L349.7 126.3L349.2 126.7L348.7 126.7L348.2 129.7L347.7 130.6L347.2 131.5L346.7 133.1L346.2 134.0L345.7 135.7L345.2 137.2L344.7 139.1L344.2 141.2L343.7 142.9L343.2 144.9L342.7 146.6L342.2 148.2L341.7 150.1L341.2 152.1L340.7 153.5L340.2 155.2L339.7 156.4L339.2 157.7L338.7 159.0L338.2 160.6L337.7 161.9L337.2 163.3L336.7 164.8L336.2 165.9L335.7 167.9L335.2 170.2L334.7 172.4L334.2 174.8L333.7 176.9L333.2 179.3L332.7 181.4L332.2 183.8L331.7 186.1L331.2 188.7L330.7 191.1L330.2 193.8L329.7 196.2L329.2 198.6L328.7 201.1L328.2 203.6L327.7 205.4L327.2 206.9L326.7 208.4L326.2 209.7L325.7 210.8L325.2 212.7L324.7 213.9L324.2 215.5L323.7 216.6L323.2 218.0L322.7 219.3L322.2 220.9L321.7 222.5L321.2 225.6L320.7 229.5L320.2 231.6L319.7 234.7L319.2 236.4L318.7 238.0L318.2 240.5L317.7 242.8L317.2 245.5L316.7 250.8L316.2 251.5L315.7 247.3L315.2 256.7L314.7 249.4L314.2 258.2L313.7 257.2L313.2 259.0L312.7 257.9L312.2 267.4L311.7 263.9L311.2 269.0L310.7 255.7L310.2 261.0L309.7 255.8L309.2 253.1L308.7 250.9L308.2 247.8L307.7 248.9L307.2 244.3L306.7 240.0L306.2 235.6L305.7 232.4L305.2 227.5L304.7 222.7L304.2 219.0L303.7 214.6L303.2 208.2L302.7 203.7L302.2 199.6L301.7 195.4L301.2 191.0L300.7 186.7L300.2 182.3L299.7 178.6L299.2 175.2L298.7 171.8L298.2 168.5L297.7 165.6L297.2 162.6L296.7 161.0L296.2 160.8L295.7 159.5L295.2 158.8L294.7 157.3L294.2 155.9L293.7 157.5L293.2 157.6L292.7 157.9L292.2 159.9L291.7 161.3L291.2 162.9L290.7 165.6L290.2 167.9L289.7 171.0L289.2 174.2L288.7 178.1L288.2 181.9L287.7 185.3L287.2 189.0L286.7 192.7L286.2 196.4L285.7 200.3L285.2 203.8L284.7 207.3L284.2 211.3L283.7 214.2L283.2 216.9L282.7 218.9L282.2 221.6L281.7 224.2L281.2 226.6L280.7 229.4L280.2 231.4L279.7 233.6L279.2 235.4L278.7 237.2L278.2 238.8L277.7 240.3L277.2 241.9L276.7 243.9L276.2 245.5L275.7 247.1L275.2 248.9L274.7 250.8L274.2 252.4L273.7 254.2L273.2 255.1L272.7 257.0L272.2 258.8L271.7 260.3L271.2 261.9L270.7 264.5L270.2 267.5L269.7 270.5L269.2 273.1L268.7 276.2L268.2 279.3L267.7 283.0L267.2 288.8L266.7 294.7L266.2 299.8L265.7 307.0L265.2 313.0L264.7 317.8L264.2 317.5L263.7 324.9L263.2 328.4L262.7 332.1L262.2 332.9L261.7 331.8L261.2 331.3L260.7 328.9L260.2 329.8L259.7 327.7L259.2 326.4L258.7 319.2L258.2 319.1L257.7 315.3L257.2 311.4L256.7 306.3L256.2 303.9L255.7 302.4L255.2 303.7L254.7 300.4L254.2 296.8L253.7 299.1L253.2 301.4L252.7 299.6L252.2 298.5L251.7 302.9L251.2 300.1L250.7 295.9L250.2 299.1L249.7 303.3L249.2 306.3L248.7 302.4L248.2 307.4L247.7 302.4L247.2 299.7L246.7 302.3L246.2 303.8L245.7 306.2L245.2 304.8L244.7 304.6L244.2 306.1L243.7 304.5L243.2 305.8L242.7 306.8L242.2 308.4L241.7 309.3L241.2 310.3L240.7 311.4L240.2 312.3L239.7 313.2L239.2 314.2L238.7 315.3L238.2 316.2L237.7 317.0L237.2 318.1L236.7 319.0L236.2 319.5L235.7 320.4L235.2 320.9L234.7 322.9L234.2 324.0L233.7 327.8L233.2 328.2L232.7 332.1L232.2 329.3L231.7 332.2L231.2 328.8L230.7 332.7L230.2 330.8L229.7 326.9L229.2 323.4L228.7 320.8L228.2 318.2L227.7 319.0L227.2 316.3L226.7 315.5L226.2 316.0L225.7 314.8L225.2 315.1L224.7 314.6L224.2 314.4L223.7 314.3L223.2 314.0L222.7 314.4L222.2 315.4L221.7 316.0L221.2 317.0L220.7 317.6L220.2 318.3L219.7 318.7L219.2 319.5L218.7 320.6L218.2 321.1L217.7 321.5L217.2 322.0L216.7 321.7L216.2 320.5L215.7 319.4L215.2 317.7L214.7 316.4L214.2 315.2L213.7 313.1L213.2 310.1L212.7 307.7L212.2 304.9L211.7 302.2L211.2 299.7L210.7 297.1L210.2 293.7L209.7 290.8L209.2 288.0L208.7 284.8L208.2 281.9L207.7 278.7L207.2 275.6L206.7 273.2L206.2 270.5L205.7 269.2L205.2 269.7L204.7 269.2L204.2 269.1L203.7 275.1L203.2 278.4L202.7 285.2L202.2 282.6L201.7 285.2L201.2 295.7L200.7 297.1L200.2 300.5L199.7 302.0L199.2 303.9L198.7 297.9L198.2 304.3L197.7 302.2L197.2 294.6L196.7 295.5L196.2 285.8L195.7 285.3L195.2 276.5L194.7 272.1L194.2 267.3L193.7 261.8L193.2 257.6L192.7 253.6L192.2 248.9L191.7 244.8L191.2 240.1L190.7 235.6L190.2 230.7L189.7 225.7L189.2 220.7L188.7 215.7L188.2 210.7L187.7 206.2L187.2 202.2L186.7 198.2L186.2 194.2L185.7 190.0L185.2 186.4L184.7 181.0L184.2 174.8L183.7 169.0L183.2 162.8L182.7 158.5L182.2 154.1L181.7 150.3L181.2 146.2L180.7 142.2L180.2 138.2L179.7 134.7L179.2 132.2L178.7 129.6L178.2 127.0L177.7 124.5L177.2 121.8L176.7 121.4L176.2 119.8L175.7 118.0L175.2 117.6L174.7 117.4L174.2 117.4L173.7 114.0L173.2 114.9L172.7 111.1L172.2 111.7L171.7 109.8L171.2 106.1L170.7 102.3L170.2 99.1L169.7 94.6L169.2 92.5L168.7 87.1L168.2 84.0L167.7 78.5L167.2 73.8L166.7 69.3L166.2 65.2L165.7 63.0L165.2 60.6L164.7 56.5L164.2 56.0L163.7 55.8L163.2 52.8L162.7 46.8L162.2 48.7L161.7 46.5L161.2 41.3L160.7 41.0L160.2 43.7L159.7 35.8L159.2 39.3L158.7 37.9L158.2 43.4L157.7 34.2L157.2 37.7L156.7 39.1L156.2 36.7L155.7 35.8L155.2 43.3L154.7 41.4L154.2 41.4L153.7 36.5L153.2 42.3L152.7 43.4L152.2 45.4L151.7 49.6L151.2 49.9L150.7 52.2L150.2 54.9L149.7 59.2L149.2 64.0L148.7 69.1L148.2 74.0L147.7 78.6L147.2 83.3L146.7 87.6L146.2 92.2L145.7 96.6L145.2 102.3L144.7 110.6L144.2 114.8L143.7 117.8L143.2 129.2L142.7 123.5L142.2 127.4L141.7 131.8L141.2 134.1L140.7 132.2L140.2 135.8L139.7 134.6L139.2 131.0L138.7 129.6L138.2 131.2L137.7 131.0L137.2 133.1L136.7 136.0L136.2 139.2L135.7 142.3L135.2 145.3L134.7 149.8L134.2 154.5L133.7 159.4L133.2 164.5L132.7 169.9L132.2 176.2L131.7 182.1L131.2 188.0L130.7 193.6L130.2 198.5L129.7 203.5L129.2 208.4L128.7 212.3L128.2 217.0L127.7 219.4L127.2 220.9L126.7 222.5L126.2 223.7L125.7 225.4L125.2 226.0L124.7 226.4L124.2 226.7L123.7 226.8L123.2 227.1L122.7 227.7L122.2 228.0L121.7 228.2L121.2 227.8L120.7 228.1L120.2 227.8L119.7 227.9L119.2 228.0L118.7 227.8L118.2 227.8L117.7 228.0L117.2 227.9L116.7 227.5L116.2 227.5L115.7 227.7L115.2 227.6L114.7 228.0L114.2 227.8L113.7 228.1L113.2 228.4L112.7 228.4L112.2 228.6L111.7 228.7L111.2 229.4L110.7 229.5L110.2 229.3L109.7 229.8L109.2 229.9L108.7 230.3L108.2 230.5L107.7 230.5L107.2 230.5L106.7 230.6L106.2 230.7L105.7 230.7L105.2 230.9L104.7 231.0L104.2 231.3L103.7 231.2L103.2 231.1L102.7 231.3L102.2 231.3L101.7 231.3L101.2 231.4L100.7 231.6L100.2 231.5L99.7 231.5L99.2 231.5L98.7 231.8L98.2 231.6L97.7 231.7L97.2 232.1L96.7 231.9L96.2 232.1L95.7 232.1L95.2 232.2L94.7 232.3L94.2 232.2L93.7 232.3L93.2 232.5L92.7 232.4L92.2 232.4L91.7 232.7L91.2 232.6L90.7 232.7L90.2 232.7L89.7 233.0L89.2 232.7L88.7 233.2L88.2 233.1L87.7 233.2L87.2 233.2L86.7 233.2L86.2 233.6L85.7 233.2L85.2 233.4L84.7 233.5L84.2 233.9L83.7 233.4L83.2 233.5L82.7 233.8Z" fill="#62b95d" stroke="#62b95d" stroke-width="1.6" stroke-linejoin="round"/>
<path d="M145.6 72.0L146.1 68.3L148.4 43.7L150.5 22.5L152.2 10.9L153.4 8.5L154.6 6.1L156.2 5.2L158.3 3.1L159.2 5.0L160.0 5.5L161.0 8.0L161.6 8.9L162.1 17.0L163.5 22.5L164.5 28.7L165.5 38.0L166.2 44.0L165.5 46.0L163.5 50.0L162.1 54.6L161.0 48.0L160.0 41.0L158.7 47.0L157.3 41.0L154.5 44.0L153.2 52.6L150.0 62.0L147.0 72.0Z" fill="#62b95d" stroke="#62b95d" stroke-width="0.8" stroke-linejoin="round"/>
<path d="M82.7 233.2C84.2 233.0 89.1 232.4 92.0 232.0C94.9 231.6 97.3 231.3 100.0 231.0C102.7 230.7 106.0 230.5 108.0 230.0C110.0 229.5 110.7 228.5 112.0 228.0C113.3 227.5 114.3 227.1 116.0 227.0C117.7 226.9 120.4 227.9 122.0 227.6C123.6 227.3 124.6 226.6 125.6 225.0C126.6 223.4 127.3 221.5 128.0 218.0C128.7 214.5 129.1 208.7 129.6 204.0C130.1 199.3 130.4 196.3 131.0 190.0C131.6 183.7 132.3 173.3 133.0 166.0C133.7 158.7 134.2 152.0 135.0 146.0C135.8 140.0 136.8 134.0 137.6 130.0C138.4 126.0 139.1 124.2 140.0 122.0C140.9 119.8 142.2 120.0 143.0 117.0C143.8 114.0 144.1 110.2 144.8 104.0C145.6 97.8 146.6 88.7 147.5 80.0C148.4 71.3 149.4 59.8 150.4 52.0C151.4 44.2 152.4 37.6 153.4 33.0C154.4 28.4 155.4 26.1 156.4 24.6C157.4 23.1 158.3 22.1 159.2 24.0C160.1 25.9 161.0 30.7 162.0 36.0C163.0 41.3 164.0 49.0 165.0 56.0C166.0 63.0 167.0 71.3 168.0 78.0C169.0 84.7 170.0 91.0 171.0 96.0C172.0 101.0 173.0 104.0 174.0 108.0C175.0 112.0 176.0 115.3 177.0 120.0C178.0 124.7 179.0 129.3 180.0 136.0C181.0 142.7 182.2 152.0 183.0 160.0C183.8 168.0 184.2 176.0 185.0 184.0C185.8 192.0 187.0 199.0 188.0 208.0C189.0 217.0 190.0 228.7 191.0 238.0C192.0 247.3 193.2 257.0 194.0 264.0C194.8 271.0 195.3 275.3 196.0 280.0C196.7 284.7 197.4 290.5 198.0 292.0C198.6 293.5 199.0 292.0 199.6 289.0C200.2 286.0 200.9 278.0 201.6 274.0C202.3 270.0 203.3 266.0 204.0 265.0C204.7 264.0 205.3 265.5 206.0 268.0C206.7 270.5 207.2 275.0 208.0 280.0C208.8 285.0 210.0 292.3 211.0 298.0C212.0 303.7 213.0 310.0 214.0 314.0C215.0 318.0 216.0 321.3 217.0 322.0C218.0 322.7 219.0 319.4 220.0 318.0C221.0 316.6 221.8 314.2 223.0 313.6C224.2 313.0 225.8 313.3 227.0 314.4C228.2 315.5 229.0 318.5 230.0 320.0C231.0 321.5 231.8 323.9 233.0 323.6C234.2 323.3 235.5 320.6 237.0 318.0C238.5 315.4 240.3 311.7 242.0 308.0C243.7 304.3 245.7 299.3 247.0 296.0C248.3 292.7 249.1 289.8 250.0 288.0C250.9 286.2 251.6 284.3 252.4 285.0C253.2 285.7 254.1 288.2 255.0 292.0C255.9 295.8 257.1 303.2 258.0 308.0C258.9 312.8 259.8 319.3 260.6 321.0C261.4 322.7 262.3 320.5 263.0 318.0C263.7 315.5 264.2 312.3 265.0 306.0C265.8 299.7 267.0 287.3 268.0 280.0C269.0 272.7 269.8 267.2 271.0 262.0C272.2 256.8 273.5 254.0 275.0 249.0C276.5 244.0 278.5 238.2 280.0 232.0C281.5 225.8 282.8 219.0 284.0 212.0C285.2 205.0 286.0 197.3 287.0 190.0C288.0 182.7 289.1 173.5 290.0 168.0C290.9 162.5 291.6 159.3 292.4 157.0C293.2 154.7 293.8 153.5 294.6 154.0C295.4 154.5 296.1 155.7 297.0 160.0C297.9 164.3 299.0 172.3 300.0 180.0C301.0 187.7 302.0 198.0 303.0 206.0C304.0 214.0 305.0 222.2 306.0 228.0C307.0 233.8 308.0 238.2 309.0 241.0C310.0 243.8 311.0 244.8 312.0 245.0C313.0 245.2 313.8 244.5 315.0 242.0C316.2 239.5 317.7 234.0 319.0 230.0C320.3 226.0 321.5 222.3 323.0 218.0C324.5 213.7 326.5 209.7 328.0 204.0C329.5 198.3 330.7 190.3 332.0 184.0C333.3 177.7 334.5 171.3 336.0 166.0C337.5 160.7 339.3 157.3 341.0 152.0C342.7 146.7 344.7 138.7 346.0 134.0C347.3 129.3 348.2 126.2 349.0 124.0C349.8 121.8 350.3 121.0 351.0 121.0C351.7 121.0 352.0 121.2 353.0 124.0C354.0 126.8 355.7 133.7 357.0 138.0C358.3 142.3 359.7 146.8 361.0 150.0C362.3 153.2 363.5 155.0 365.0 157.0C366.5 159.0 368.5 160.2 370.0 162.0C371.5 163.8 372.8 165.5 374.0 168.0C375.2 170.5 376.0 174.8 377.0 177.0C378.0 179.2 379.0 180.5 380.0 181.0C381.0 181.5 382.2 180.4 383.0 180.0C383.8 179.6 384.2 177.7 385.0 178.4C385.8 179.1 387.2 181.1 388.0 184.0C388.8 186.9 389.2 190.0 390.0 196.0C390.8 202.0 392.0 212.3 393.0 220.0C394.0 227.7 394.8 234.2 396.0 242.0C397.2 249.8 398.3 259.3 400.0 267.0C401.7 274.7 404.0 281.2 406.0 288.0C408.0 294.8 410.2 302.0 412.0 308.0C413.8 314.0 415.7 320.0 417.0 324.0C418.3 328.0 419.2 330.5 420.0 332.0C420.8 333.5 421.3 333.7 422.0 333.0C422.7 332.3 423.2 332.2 424.0 328.0C424.8 323.8 426.0 314.5 427.0 308.0C428.0 301.5 429.0 294.1 430.0 289.0C431.0 283.9 432.1 279.8 433.0 277.5C433.9 275.2 434.6 274.7 435.6 275.0C436.6 275.3 437.8 276.5 439.0 279.5C440.2 282.5 441.7 289.2 443.0 293.0C444.3 296.8 445.7 300.1 447.0 302.0C448.3 303.9 449.3 304.5 451.0 304.5C452.7 304.5 455.2 302.9 457.0 302.0C458.8 301.1 460.5 300.7 462.0 299.0C463.5 297.3 464.8 293.6 466.0 292.0C467.2 290.4 467.8 289.6 469.0 289.5C470.2 289.4 471.7 290.9 473.0 291.5C474.3 292.1 475.8 293.6 477.0 293.0C478.2 292.4 479.0 290.2 480.0 288.0C481.0 285.8 481.7 282.3 483.0 280.0C484.3 277.7 486.2 276.2 488.0 274.0C489.8 271.8 492.2 270.0 494.0 267.0C495.8 264.0 497.3 259.7 499.0 256.0C500.7 252.3 502.3 248.5 504.0 245.0C505.7 241.5 507.5 238.2 509.0 235.0C510.5 231.8 511.8 230.2 513.0 226.0C514.2 221.8 515.0 215.7 516.0 210.0C517.0 204.3 518.1 196.8 519.0 192.0C519.9 187.2 520.6 183.5 521.6 181.0C522.6 178.5 523.6 177.3 525.0 177.0C526.4 176.7 528.2 178.4 530.0 179.0C531.8 179.6 534.0 180.7 536.0 180.4C538.0 180.1 540.3 179.1 542.0 177.0C543.7 174.9 544.8 170.2 546.0 168.0C547.2 165.8 548.1 164.5 549.0 163.6C549.9 162.7 550.6 161.8 551.6 162.4C552.6 163.0 553.8 165.7 555.0 167.0C556.2 168.3 557.7 170.2 559.0 170.0C560.3 169.8 561.7 168.0 563.0 166.0C564.3 164.0 565.7 160.3 567.0 158.0C568.3 155.7 569.8 153.3 571.0 152.0C572.2 150.7 573.0 149.8 574.0 150.0C575.0 150.2 576.0 151.0 577.0 153.0C578.0 155.0 578.8 157.8 580.0 162.0C581.2 166.2 582.5 172.3 584.0 178.0C585.5 183.7 587.3 190.7 589.0 196.0C590.7 201.3 592.5 206.7 594.0 210.0C595.5 213.3 596.7 214.0 598.0 216.0C599.3 218.0 600.8 219.3 602.0 222.0C603.2 224.7 603.8 228.0 605.0 232.0C606.2 236.0 607.7 241.7 609.0 246.0C610.3 250.3 611.5 254.3 613.0 258.0C614.5 261.7 616.5 264.5 618.0 268.0C619.5 271.5 620.7 276.2 622.0 279.0C623.3 281.8 624.8 283.8 626.0 285.0C627.2 286.2 627.8 286.5 629.0 286.0C630.2 285.5 631.7 283.3 633.0 282.0C634.3 280.7 635.8 278.3 637.0 278.0C638.2 277.7 638.8 278.3 640.0 280.0C641.2 281.7 642.7 285.7 644.0 288.0C645.3 290.3 646.7 293.1 648.0 293.6C649.3 294.1 650.5 292.2 652.0 291.0C653.5 289.8 655.3 287.0 657.0 286.4C658.7 285.8 660.3 286.8 662.0 287.6C663.7 288.4 665.3 289.1 667.0 291.0C668.7 292.9 670.7 297.1 672.0 299.0C673.3 300.9 674.0 302.2 675.0 302.4C676.0 302.6 676.8 302.1 678.0 300.0C679.2 297.9 680.8 292.8 682.0 290.0C683.2 287.2 684.0 284.4 685.0 283.0C686.0 281.6 686.8 281.4 688.0 281.6C689.2 281.8 690.5 283.0 692.0 284.4C693.5 285.8 695.5 288.5 697.0 290.0C698.5 291.5 700.1 292.9 701.0 293.6C701.9 294.3 701.6 295.0 702.4 294.4C703.2 293.8 704.7 292.4 706.0 290.0C707.3 287.6 708.7 284.0 710.0 280.0C711.3 276.0 712.3 272.7 714.0 266.0C715.7 259.3 718.0 248.0 720.0 240.0C722.0 232.0 724.2 225.3 726.0 218.0C727.8 210.7 729.5 202.7 731.0 196.0C732.5 189.3 733.7 182.8 735.0 178.0C736.3 173.2 737.5 170.1 739.0 167.0C740.5 163.9 742.5 161.2 744.0 159.6C745.5 158.0 746.7 157.5 748.0 157.6C749.3 157.7 750.7 158.1 752.0 160.0C753.3 161.9 754.7 166.0 756.0 169.0C757.3 172.0 758.7 176.0 760.0 178.0C761.3 180.0 762.7 181.2 764.0 181.0C765.3 180.8 766.7 178.3 768.0 177.0C769.3 175.7 770.7 173.6 772.0 173.0C773.3 172.4 774.7 172.6 776.0 173.6C777.3 174.6 778.7 176.9 780.0 179.0C781.3 181.1 782.5 184.0 784.0 186.0C785.5 188.0 787.5 189.7 789.0 191.0C790.5 192.3 791.5 193.3 793.0 193.6C794.5 193.9 796.5 192.8 798.0 193.0C799.5 193.2 800.7 193.5 802.0 195.0C803.3 196.5 804.7 199.2 806.0 202.0C807.3 204.8 808.7 209.5 810.0 212.0C811.3 214.5 812.3 216.3 814.0 217.0C815.7 217.7 818.2 216.2 820.0 216.4C821.8 216.6 823.5 216.9 825.0 218.0C826.5 219.1 827.7 220.3 829.0 223.0C830.3 225.7 831.7 229.5 833.0 234.0C834.3 238.5 835.5 244.3 837.0 250.0C838.5 255.7 840.3 262.7 842.0 268.0C843.7 273.3 845.3 278.3 847.0 282.0C848.7 285.7 850.3 287.5 852.0 290.0C853.7 292.5 855.3 294.8 857.0 297.0C858.7 299.2 860.3 301.8 862.0 303.0C863.7 304.2 865.3 304.1 867.0 304.4C868.7 304.7 870.3 305.0 872.0 305.0C873.7 305.0 875.5 305.2 877.0 304.4C878.5 303.6 879.7 301.4 881.0 300.0C882.3 298.6 883.7 296.7 885.0 296.0C886.3 295.3 887.5 295.3 889.0 295.6C890.5 295.9 892.3 297.2 894.0 297.6C895.7 298.0 897.4 299.1 899.0 297.7C900.6 296.3 902.2 293.0 903.7 289.0C905.2 285.0 906.7 278.3 908.2 273.5C909.7 268.7 911.5 263.4 912.7 260.0C913.9 256.6 913.9 255.3 915.2 253.0C916.5 250.7 918.7 247.7 920.6 246.4C922.5 245.1 925.5 245.2 926.5 245.0" fill="none" stroke="#3d72bd" stroke-width="4.4" stroke-linejoin="round" stroke-linecap="round"/>
</g>
<g clip-path="url(#cp)">
<path d="M82.7 951.0L83.7 951.0L84.7 951.0L85.7 951.0L86.7 951.0L87.7 951.0L88.7 951.0L89.7 951.0L90.7 951.0L91.7 951.0L92.7 951.0L93.7 951.0L94.7 951.0L95.7 951.0L96.7 951.0L97.7 951.0L98.7 951.0L99.7 951.0L100.7 951.0L101.7 951.0L102.7 951.0L103.7 951.0L104.7 951.0L105.7 951.0L106.7 951.0L107.7 951.0L108.7 951.0L109.7 951.0L110.7 951.0L111.7 951.0L112.7 951.0L113.7 951.0L114.7 951.0L115.7 951.0L116.7 951.0L117.7 951.0L118.7 951.0L119.7 950.9L120.7 950.9L121.7 950.9L122.7 950.8L123.7 950.7L124.7 950.7L125.7 950.5L126.7 950.4L127.7 950.2L128.7 949.9L129.7 949.5L130.7 949.1L131.7 948.6L132.7 947.9L133.7 947.0L134.7 946.0L135.7 944.7L136.7 943.2L137.7 941.3L138.7 939.1L139.7 936.6L140.7 933.6L141.7 930.2L142.7 926.3L143.7 921.9L144.7 916.9L145.7 911.4L146.7 905.3L147.7 898.7L148.7 891.7L149.7 884.1L150.7 876.2L151.7 868.0L152.7 859.6L153.7 851.0L154.7 842.5L155.7 834.2L156.7 826.1L157.7 818.6L158.7 811.6L159.7 805.3L160.7 799.9L161.7 795.5L162.7 792.2L163.7 790.0L164.7 789.1L165.7 789.3L166.7 790.8L167.7 793.4L168.7 797.2L169.7 802.0L170.7 807.7L171.7 814.3L172.7 821.5L173.7 829.3L174.7 837.5L175.7 845.9L176.7 854.5L177.7 863.0L178.7 871.3L179.7 879.4L180.7 887.2L181.7 894.6L182.7 901.4L183.7 907.8L184.7 913.6L185.7 918.9L186.7 923.7L187.7 927.9L188.7 931.6L189.7 934.9L190.7 937.7L191.7 940.1L192.7 942.1L193.7 943.8L194.7 945.2L195.7 946.4L196.7 947.4L197.7 948.2L198.7 948.8L199.7 949.3L200.7 949.7L201.7 950.0L202.7 950.2L203.7 950.4L204.7 950.6L205.7 950.7L206.7 950.8L207.7 950.8L208.7 950.9L209.7 950.9L210.7 950.9L211.7 951.0L212.7 951.0L213.7 951.0L214.7 951.0L215.7 951.0L216.7 951.0L217.7 951.0L218.7 951.0L219.7 951.0L220.7 951.0L221.7 951.0L222.7 951.0L223.7 951.0L224.7 951.0L225.7 951.0L226.7 951.0L227.7 951.0L228.7 951.0L229.7 951.0L230.7 951.0L231.7 951.0L232.7 951.0L233.7 951.0L234.7 951.0L235.7 951.0L236.7 951.0L237.7 951.0L238.7 951.0L239.7 951.0L240.7 951.0L241.7 951.0L242.7 951.0L243.7 951.0L244.7 951.0L245.7 951.0L246.7 951.0L247.7 951.0L248.7 951.0L249.7 951.0L250.7 951.0L251.7 951.0L252.7 951.0L253.7 951.0L254.7 951.0L255.7 951.0L256.7 951.0L257.7 951.0L258.7 951.0L259.7 951.0L260.7 951.0L261.7 951.0L262.7 951.0L263.7 951.0L264.7 951.0L265.7 951.0L266.7 951.0L267.7 951.0L268.7 951.0L269.7 951.0L270.7 951.0L271.7 951.0L272.7 951.0L273.7 951.0L274.7 951.0L275.7 951.0L276.7 951.0L277.7 951.0L278.7 951.0L279.7 951.0L280.7 951.0L281.7 951.0L282.7 951.0L283.7 951.0L284.7 951.0L285.7 950.9L286.7 950.9L287.7 950.9L288.7 950.9L289.7 950.9L290.7 950.9L291.7 950.8L292.7 950.8L293.7 950.8L294.7 950.7L295.7 950.7L296.7 950.6L297.7 950.5L298.7 950.5L299.7 950.4L300.7 950.3L301.7 950.2L302.7 950.0L303.7 949.9L304.7 949.7L305.7 949.5L306.7 949.3L307.7 949.1L308.7 948.8L309.7 948.5L310.7 948.2L311.7 947.8L312.7 947.4L313.7 947.0L314.7 946.5L315.7 946.0L316.7 945.4L317.7 944.8L318.7 944.2L319.7 943.5L320.7 942.7L321.7 941.9L322.7 941.0L323.7 940.1L324.7 939.1L325.7 938.0L326.7 936.9L327.7 935.8L328.7 934.6L329.7 933.4L330.7 932.1L331.7 930.7L332.7 929.4L333.7 928.0L334.7 926.6L335.7 925.1L336.7 923.7L337.7 922.2L338.7 920.7L339.7 919.3L340.7 917.9L341.7 916.5L342.7 915.1L343.7 913.8L344.7 912.5L345.7 911.3L346.7 910.1L347.7 909.1L348.7 908.1L349.7 907.2L350.7 906.4L351.7 905.7L352.7 905.1L353.7 904.7L354.7 904.3L355.7 904.1L356.7 904.0L357.7 904.0L358.7 904.2L359.7 904.4L360.7 904.8L361.7 905.3L362.7 906.0L363.7 906.7L364.7 907.5L365.7 908.5L366.7 909.5L367.7 910.6L368.7 911.7L369.7 913.0L370.7 914.3L371.7 915.6L372.7 917.0L373.7 918.4L374.7 919.9L375.7 921.3L376.7 922.8L377.7 924.2L378.7 925.7L379.7 927.1L380.7 928.5L381.7 929.9L382.7 931.3L383.7 932.6L384.7 933.9L385.7 935.1L386.7 936.3L387.7 937.4L388.7 938.5L389.7 939.5L390.7 940.4L391.7 941.4L392.7 942.2L393.7 943.0L394.7 943.7L395.7 944.4L396.7 945.1L397.7 945.7L398.7 946.2L399.7 946.7L400.7 947.2L401.7 947.6L402.7 948.0L403.7 948.3L404.7 948.6L405.7 948.9L406.7 949.2L407.7 949.4L408.7 949.6L409.7 949.8L410.7 949.9L411.7 950.1L412.7 950.2L413.7 950.3L414.7 950.4L415.7 950.5L416.7 950.6L417.7 950.6L418.7 950.7L419.7 950.7L420.7 950.8L421.7 950.8L422.7 950.8L423.7 950.9L424.7 950.9L425.7 950.9L426.7 950.9L427.7 950.9L428.7 950.9L429.7 951.0L430.7 951.0L431.7 951.0L432.7 951.0L433.7 951.0L434.7 951.0L435.7 951.0L436.7 951.0L437.7 951.0L438.7 951.0L439.7 951.0L440.7 951.0L441.7 951.0L442.7 951.0L443.7 951.0L444.7 951.0L445.7 951.0L446.7 951.0L447.7 951.0L448.7 951.0L449.7 951.0L450.7 951.0L451.7 951.0L452.7 951.0L453.7 951.0L454.7 951.0L455.7 951.0L456.7 951.0L457.7 951.0L458.7 951.0L459.7 951.0L460.7 951.0L461.7 951.0L462.7 951.0L463.7 951.0L464.7 951.0L465.7 951.0L466.7 951.0L467.7 951.0L468.7 951.0L469.7 951.0L470.7 951.0L471.7 951.0L472.7 951.0L473.7 951.0L474.7 951.0L475.7 951.0L476.7 951.0L477.7 951.0L478.7 951.0L479.7 951.0L480.7 951.0L481.7 951.0L482.7 951.0L483.7 951.0L484.7 951.0L485.7 951.0L486.7 951.0L487.7 951.0L488.7 951.0L489.7 951.0L490.7 951.0L491.7 951.0L492.7 951.0L493.7 951.0L494.7 951.0L495.7 951.0L496.7 951.0L497.7 951.0L498.7 950.9L499.7 950.9L500.7 950.9L501.7 950.9L502.7 950.9L503.7 950.9L504.7 950.8L505.7 950.8L506.7 950.7L507.7 950.7L508.7 950.6L509.7 950.6L510.7 950.5L511.7 950.4L512.7 950.3L513.7 950.2L514.7 950.1L515.7 949.9L516.7 949.7L517.7 949.5L518.7 949.3L519.7 949.1L520.7 948.8L521.7 948.5L522.7 948.1L523.7 947.7L524.7 947.3L525.7 946.8L526.7 946.3L527.7 945.8L528.7 945.2L529.7 944.5L530.7 943.8L531.7 943.0L532.7 942.2L533.7 941.3L534.7 940.4L535.7 939.4L536.7 938.3L537.7 937.2L538.7 936.1L539.7 934.9L540.7 933.7L541.7 932.4L542.7 931.1L543.7 929.8L544.7 928.5L545.7 927.1L546.7 925.8L547.7 924.5L548.7 923.1L549.7 921.8L550.7 920.6L551.7 919.3L552.7 918.2L553.7 917.0L554.7 916.0L555.7 915.0L556.7 914.2L557.7 913.4L558.7 912.7L559.7 912.1L560.7 911.7L561.7 911.3L562.7 911.1L563.7 911.0L564.7 911.0L565.7 911.2L566.7 911.4L567.7 911.8L568.7 912.3L569.7 913.0L570.7 913.7L571.7 914.5L572.7 915.4L573.7 916.4L574.7 917.5L575.7 918.6L576.7 919.8L577.7 921.1L578.7 922.3L579.7 923.7L580.7 925.0L581.7 926.3L582.7 927.7L583.7 929.0L584.7 930.4L585.7 931.7L586.7 932.9L587.7 934.2L588.7 935.4L589.7 936.6L590.7 937.7L591.7 938.8L592.7 939.8L593.7 940.7L594.7 941.7L595.7 942.5L596.7 943.3L597.7 944.1L598.7 944.8L599.7 945.4L600.7 946.0L601.7 946.5L602.7 947.0L603.7 947.5L604.7 947.9L605.7 948.3L606.7 948.6L607.7 948.9L608.7 949.2L609.7 949.4L610.7 949.6L611.7 949.8L612.7 950.0L613.7 950.1L614.7 950.2L615.7 950.4L616.7 950.4L617.7 950.5L618.7 950.6L619.7 950.7L620.7 950.7L621.7 950.8L622.7 950.8L623.7 950.8L624.7 950.9L625.7 950.9L626.7 950.9L627.7 950.9L628.7 950.9L629.7 950.9L630.7 951.0L631.7 951.0L632.7 951.0L633.7 951.0L634.7 951.0L635.7 951.0L636.7 951.0L637.7 951.0L638.7 951.0L639.7 951.0L640.7 951.0L641.7 951.0L642.7 951.0L643.7 951.0L644.7 951.0L645.7 951.0L646.7 951.0L647.7 951.0L648.7 951.0L649.7 951.0L650.7 951.0L651.7 951.0L652.7 951.0L653.7 951.0L654.7 951.0L655.7 951.0L656.7 951.0L657.7 951.0L658.7 951.0L659.7 951.0L660.7 951.0L661.7 951.0L662.7 951.0L663.7 951.0L664.7 951.0L665.7 951.0L666.7 951.0L667.7 951.0L668.7 951.0L669.7 951.0L670.7 951.0L671.7 951.0L672.7 951.0L673.7 951.0L674.7 951.0L675.7 951.0L676.7 951.0L677.7 951.0L678.7 951.0L679.7 951.0L680.7 951.0L681.7 951.0L682.7 951.0L683.7 951.0L684.7 951.0L685.7 951.0L686.7 951.0L687.7 951.0L688.7 951.0L689.7 951.0L690.7 951.0L691.7 951.0L692.7 951.0L693.7 951.0L694.7 951.0L695.7 951.0L696.7 951.0L697.7 951.0L698.7 950.9L699.7 950.9L700.7 950.9L701.7 950.9L702.7 950.9L703.7 950.9L704.7 950.9L705.7 950.8L706.7 950.8L707.7 950.8L708.7 950.7L709.7 950.7L710.7 950.7L711.7 950.6L712.7 950.6L713.7 950.5L714.7 950.4L715.7 950.4L716.7 950.3L717.7 950.2L718.7 950.1L719.7 949.9L720.7 949.8L721.7 949.7L722.7 949.5L723.7 949.3L724.7 949.2L725.7 948.9L726.7 948.7L727.7 948.5L728.7 948.2L729.7 947.9L730.7 947.6L731.7 947.3L732.7 946.9L733.7 946.6L734.7 946.1L735.7 945.7L736.7 945.3L737.7 944.8L738.7 944.3L739.7 943.7L740.7 943.2L741.7 942.6L742.7 941.9L743.7 941.3L744.7 940.6L745.7 939.9L746.7 939.2L747.7 938.5L748.7 937.7L749.7 937.0L750.7 936.2L751.7 935.4L752.7 934.6L753.7 933.8L754.7 932.9L755.7 932.1L756.7 931.3L757.7 930.5L758.7 929.7L759.7 929.0L760.7 928.2L761.7 927.5L762.7 926.8L763.7 926.1L764.7 925.5L765.7 924.8L766.7 924.3L767.7 923.8L768.7 923.3L769.7 922.9L770.7 922.5L771.7 922.2L772.7 921.9L773.7 921.7L774.7 921.6L775.7 921.5L776.7 921.5L777.7 921.5L778.7 921.6L779.7 921.8L780.7 922.0L781.7 922.3L782.7 922.6L783.7 923.0L784.7 923.5L785.7 924.0L786.7 924.5L787.7 925.1L788.7 925.7L789.7 926.4L790.7 927.0L791.7 927.8L792.7 928.5L793.7 929.3L794.7 930.0L795.7 930.8L796.7 931.6L797.7 932.5L798.7 933.3L799.7 934.1L800.7 934.9L801.7 935.7L802.7 936.5L803.7 937.3L804.7 938.0L805.7 938.8L806.7 939.5L807.7 940.2L808.7 940.9L809.7 941.6L810.7 942.2L811.7 942.8L812.7 943.4L813.7 943.9L814.7 944.5L815.7 945.0L816.7 945.4L817.7 945.9L818.7 946.3L819.7 946.7L820.7 947.1L821.7 947.4L822.7 947.7L823.7 948.0L824.7 948.3L825.7 948.6L826.7 948.8L827.7 949.0L828.7 949.2L829.7 949.4L830.7 949.6L831.7 949.7L832.7 949.9L833.7 950.0L834.7 950.1L835.7 950.2L836.7 950.3L837.7 950.4L838.7 950.5L839.7 950.5L840.7 950.6L841.7 950.6L842.7 950.7L843.7 950.7L844.7 950.8L845.7 950.8L846.7 950.8L847.7 950.8L848.7 950.9L849.7 950.9L850.7 950.9L851.7 950.9L852.7 950.9L853.7 950.9L854.7 950.9L855.7 951.0L856.7 951.0L857.7 951.0L858.7 951.0L859.7 951.0L860.7 951.0L861.7 951.0L862.7 951.0L863.7 951.0L864.7 951.0L865.7 951.0L866.7 951.0L867.7 951.0L868.7 951.0L869.7 951.0L870.7 951.0L871.7 951.0L872.7 951.0L873.7 951.0L874.7 951.0L875.7 951.0L876.7 951.0L877.7 951.0L878.7 951.0L879.7 951.0L880.7 951.0L881.7 951.0L882.7 951.0L883.7 951.0L884.7 951.0L885.7 951.0L886.7 951.0L887.7 951.0L888.7 951.0L889.7 951.0L890.7 951.0L891.7 951.0L892.7 951.0L893.7 951.0L894.7 951.0L895.7 951.0L896.7 951.0L897.7 951.0L898.7 951.0L899.7 951.0L900.7 951.0L901.7 951.0L902.7 951.0L903.7 951.0L904.7 951.0L905.7 951.0L906.7 951.0L907.7 951.0L908.7 951.0L909.7 951.0L910.7 951.0L911.7 951.0L912.7 951.0L913.7 951.0L914.7 951.0L915.7 951.0L916.7 951.0L917.7 951.0L918.7 951.0L919.7 951.0L920.7 951.0L921.7 951.0L922.7 951.0L923.7 951.0L924.7 951.0L925.7 951.0L926.7 951.0" fill="none" stroke="#dd2027" stroke-width="7.0" filter="url(#b3)"/>
<path d="M82.7 950.6L83.2 950.6L83.7 950.6L84.2 950.6L84.7 950.6L85.2 950.6L85.7 950.6L86.2 950.6L86.7 950.6L87.2 950.5L87.7 950.5L88.2 950.5L88.7 950.5L89.2 950.5L89.7 950.5L90.2 950.5L90.7 950.5L91.2 950.5L91.7 950.5L92.2 950.5L92.7 950.5L93.2 950.5L93.7 950.5L94.2 950.5L94.7 950.5L95.2 950.5L95.7 950.4L96.2 950.4L96.7 950.4L97.2 950.4L97.7 950.4L98.2 950.4L98.7 950.4L99.2 950.4L99.7 950.4L100.2 950.4L100.7 950.4L101.2 950.4L101.7 950.4L102.2 950.4L102.7 950.4L103.2 950.3L103.7 950.3L104.2 950.3L104.7 950.3L105.2 950.3L105.7 950.3L106.2 950.3L106.7 950.3L107.2 950.3L107.7 950.3L108.2 950.3L108.7 950.3L109.2 950.2L109.7 950.2L110.2 950.2L110.7 950.2L111.2 950.2L111.7 950.2L112.2 950.2L112.7 950.2L113.2 950.2L113.7 950.2L114.2 950.2L114.7 950.1L115.2 950.1L115.7 950.1L116.2 950.1L116.7 950.1L117.2 950.1L117.7 950.1L118.2 950.0L118.7 949.8L119.2 949.6L119.7 949.4L120.2 949.1L120.7 948.9L121.2 948.7L121.7 948.5L122.2 948.3L122.7 948.1L123.2 947.9L123.7 947.7L124.2 947.9L124.7 947.8L125.2 947.7L125.7 947.6L126.2 947.4L126.7 947.3L127.2 947.2L127.7 947.0L128.2 945.7L128.7 944.1L129.2 942.5L129.7 941.0L130.2 939.4L130.7 937.8L131.2 936.2L131.7 934.6L132.2 933.0L132.7 931.4L133.2 929.9L133.7 928.3L134.2 926.8L134.7 925.2L135.2 923.7L135.7 922.1L136.2 920.6L136.7 919.0L137.2 917.5L137.7 915.9L138.2 914.3L138.7 912.6L139.2 910.9L139.7 909.2L140.2 907.5L140.7 905.8L141.2 904.2L141.7 902.5L142.2 900.8L142.7 899.1L143.2 897.4L143.7 895.7L144.2 893.5L144.7 891.0L145.2 888.5L145.7 886.0L146.2 883.5L146.7 881.0L147.2 878.6L147.7 876.1L148.2 873.6L148.7 871.1L149.2 868.6L149.7 866.1L150.2 862.3L150.7 858.3L151.2 854.2L151.7 850.1L152.2 846.0L152.7 841.9L153.2 837.8L153.7 833.8L154.2 829.3L154.7 823.2L155.2 817.1L155.7 811.0L156.2 804.9L156.7 798.8L157.2 792.7L157.7 786.6L158.2 778.3L158.7 770.0L159.2 761.8L159.7 753.5L160.2 745.3L160.7 737.4L161.2 729.5L161.7 721.5L162.2 713.6L162.7 717.4L163.2 724.2L163.7 730.9L164.2 737.7L164.7 744.4L165.2 750.9L165.7 757.0L166.2 763.1L166.7 769.1L167.2 775.2L167.7 781.3L168.2 785.0L168.7 787.2L169.2 789.4L169.7 791.6L170.2 793.8L170.7 796.0L171.2 798.2L171.7 800.4L172.2 802.6L172.7 804.8L173.2 807.0L173.7 809.0L174.2 811.0L174.7 812.9L175.2 814.9L175.7 816.9L176.2 818.9L176.7 820.9L177.2 822.8L177.7 824.8L178.2 826.8L178.7 829.8L179.2 833.5L179.7 837.1L180.2 840.8L180.7 844.5L181.2 848.1L181.7 851.8L182.2 856.0L182.7 861.0L183.2 866.0L183.7 871.0L184.2 876.0L184.7 881.0L185.2 886.0L185.7 890.8L186.2 895.4L186.7 900.1L187.2 904.7L187.7 909.3L188.2 913.9L188.7 918.5L189.2 923.1L189.7 926.5L190.2 929.6L190.7 932.7L191.2 935.8L191.7 938.9L192.2 942.0L192.7 945.1L193.2 947.5L193.7 948.9L194.2 950.3L194.7 951.7L195.2 953.0L195.7 954.4L196.2 955.8L196.7 957.2L197.2 957.7L197.7 956.9L198.2 956.1L198.7 955.3L199.2 954.5L199.7 953.7L200.2 952.9L200.7 952.1L201.2 951.3L201.7 950.5L202.2 950.1L202.7 950.4L203.2 950.6L203.7 950.9L204.2 951.1L204.7 951.4L205.2 951.6L205.7 951.9L206.2 952.2L206.7 952.7L207.2 953.2L207.7 953.7L208.2 954.2L208.7 954.7L209.2 955.2L209.7 955.7L210.2 956.2L210.7 956.7L211.2 957.2L211.7 957.7L212.2 957.7L212.7 957.1L213.2 956.4L213.7 955.7L214.2 955.1L214.7 954.4L215.2 953.7L215.7 953.1L216.2 952.4L216.7 951.7L217.2 951.1L217.7 950.4L218.2 949.7L218.7 949.0L219.2 948.2L219.7 947.5L220.2 946.7L220.7 946.0L221.2 945.2L221.7 944.5L222.2 942.3L222.7 940.9L223.2 939.5L223.7 938.0L224.2 937.6L224.7 939.0L225.2 940.6L225.7 942.3L226.2 943.9L226.7 944.7L227.2 945.1L227.7 945.5L228.2 945.9L228.7 946.3L229.2 946.5L229.7 946.6L230.2 946.8L230.7 946.9L231.2 947.0L231.7 947.2L232.2 947.3L232.7 946.4L233.2 945.2L233.7 944.0L234.2 942.9L234.7 941.7L235.2 940.5L235.7 939.3L236.2 938.0L236.7 936.7L237.2 935.5L237.7 934.2L238.2 933.1L238.7 932.0L239.2 929.6L239.7 927.2L240.2 924.8L240.7 924.3L241.2 926.9L241.7 929.5L242.2 932.2L242.7 933.9L243.2 934.5L243.7 935.6L244.2 937.1L244.7 938.6L245.2 940.1L245.7 941.6L246.2 943.1L246.7 944.5L247.2 946.0L247.7 947.5L248.2 948.9L248.7 950.2L249.2 951.6L249.7 952.9L250.2 954.3L250.7 955.6L251.2 956.9L251.7 958.3L252.2 959.6L252.7 960.6L253.2 961.5L253.7 962.5L254.2 963.5L254.7 964.4L255.2 965.4L255.7 966.3L256.2 966.6L256.7 966.9L257.2 967.2L257.7 967.5L258.2 967.3L258.7 966.2L259.2 965.1L259.7 964.0L260.2 963.0L260.7 961.2L261.2 958.9L261.7 956.6L262.2 954.3L262.7 952.1L263.2 949.8L263.7 948.3L264.2 945.5L264.7 941.9L265.2 938.4L265.7 934.8L266.2 933.0L266.7 935.2L267.2 937.4L267.7 939.6L268.2 941.4L268.7 941.3L269.2 941.1L269.7 941.5L270.2 942.0L270.7 942.4L271.2 942.8L271.7 943.2L272.2 943.6L272.7 944.0L273.2 944.2L273.7 944.5L274.2 944.7L274.7 944.9L275.2 945.1L275.7 945.3L276.2 945.5L276.7 945.7L277.2 945.9L277.7 946.1L278.2 946.3L278.7 946.5L279.2 946.7L279.7 946.8L280.2 947.0L280.7 947.2L281.2 947.4L281.7 947.5L282.2 947.7L282.7 947.9L283.2 948.5L283.7 949.5L284.2 950.4L284.7 951.4L285.2 952.4L285.7 953.3L286.2 954.3L286.7 955.2L287.2 955.9L287.7 956.5L288.2 957.2L288.7 957.8L289.2 958.5L289.7 958.3L290.2 957.5L290.7 956.8L291.2 956.0L291.7 955.2L292.2 952.7L292.7 950.2L293.2 947.6L293.7 945.1L294.2 942.6L294.7 940.2L295.2 938.2L295.7 936.3L296.2 934.3L296.7 932.4L297.2 930.0L297.7 925.1L298.2 921.4L298.7 917.7L299.2 916.6L299.7 919.6L300.2 923.8L300.7 928.1L301.2 930.2L301.7 931.2L302.2 932.6L302.7 934.3L303.2 936.1L303.7 937.8L304.2 939.6L304.7 941.3L305.2 942.5L305.7 943.2L306.2 943.9L306.7 944.6L307.2 945.3L307.7 946.1L308.2 946.8L308.7 947.0L309.2 947.0L309.7 946.9L310.2 946.9L310.7 946.8L311.2 946.7L311.7 946.7L312.2 946.6L312.7 946.6L313.2 946.5L313.7 946.5L314.2 946.3L314.7 946.1L315.2 945.9L315.7 945.7L316.2 945.6L316.7 945.4L317.2 945.2L317.7 945.0L318.2 944.8L318.7 944.6L319.2 944.5L319.7 944.2L320.2 943.9L320.7 943.6L321.2 943.3L321.7 942.9L322.2 942.6L322.7 942.3L323.2 942.0L323.7 941.7L324.2 941.3L324.7 941.0L325.2 940.7L325.7 940.1L326.2 939.4L326.7 938.6L327.2 937.9L327.7 937.1L328.2 936.4L328.7 935.6L329.2 934.9L329.7 934.1L330.2 933.4L330.7 932.6L331.2 931.9L331.7 930.9L332.2 929.6L332.7 928.3L333.2 927.0L333.7 925.7L334.2 924.4L334.7 923.1L335.2 922.0L335.7 921.3L336.2 920.6L336.7 919.9L337.2 919.2L337.7 918.4L338.2 917.5L338.7 916.5L339.2 915.3L339.7 914.2L340.2 913.1L340.7 911.9L341.2 910.8L341.7 909.7L342.2 908.6L342.7 907.4L343.2 906.5L343.7 905.6L344.2 904.5L344.7 903.3L345.2 902.0L345.7 900.8L346.2 899.5L346.7 898.3L347.2 897.0L347.7 896.0L348.2 895.0L348.7 894.0L349.2 893.0L349.7 892.0L350.2 891.0L350.7 890.0L351.2 889.5L351.7 890.2L352.2 890.9L352.7 891.6L353.2 892.3L353.7 893.0L354.2 893.7L354.7 894.6L355.2 895.9L355.7 897.3L356.2 898.6L356.7 900.0L357.2 901.3L357.7 902.7L358.2 904.0L358.7 904.9L359.2 905.8L359.7 906.6L360.2 907.5L360.7 908.3L361.2 909.1L361.7 910.0L362.2 910.8L362.7 911.6L363.2 912.4L363.7 913.1L364.2 913.6L364.7 914.1L365.2 914.6L365.7 915.1L366.2 915.6L366.7 916.1L367.2 916.6L367.7 917.1L368.2 917.6L368.7 918.1L369.2 918.6L369.7 918.9L370.2 919.1L370.7 919.2L371.2 919.1L371.7 919.1L372.2 919.3L372.7 919.8L373.2 920.4L373.7 920.9L374.2 921.1L374.7 921.4L375.2 921.6L375.7 921.7L376.2 921.9L376.7 922.0L377.2 922.1L377.7 922.3L378.2 922.4L378.7 922.3L379.2 921.7L379.7 921.0L380.2 920.3L380.7 919.6L381.2 918.9L381.7 918.2L382.2 917.5L382.7 916.6L383.2 915.6L383.7 914.7L384.2 913.7L384.7 912.7L385.2 911.8L385.7 911.1L386.2 910.7L386.7 909.7L387.2 907.9L387.7 906.1L388.2 906.1L388.7 909.0L389.2 911.9L389.7 914.2L390.2 915.7L390.7 919.1L391.2 922.9L391.7 926.8L392.2 930.7L392.7 934.5L393.2 938.4L393.7 941.9L394.2 945.5L394.7 949.0L395.2 952.5L395.7 956.1L396.2 959.3L396.7 961.3L397.2 963.3L397.7 965.4L398.2 967.4L398.7 969.4L399.2 970.9L399.7 971.8L400.2 972.6L400.7 973.5L401.2 974.3L401.7 975.2L402.2 976.0L402.7 976.8L403.2 977.7L403.7 978.4L404.2 979.0L404.7 979.6L405.2 980.3L405.7 980.9L406.2 981.5L406.7 982.1L407.2 982.8L407.7 983.4L408.2 984.0L408.7 984.6L409.2 985.3L409.7 985.6L410.2 986.0L410.7 986.3L411.2 986.6L411.7 987.0L412.2 987.3L412.7 987.6L413.2 988.0L413.7 988.2L414.2 987.8L414.7 987.3L415.2 986.8L415.7 986.3L416.2 985.8L416.7 985.0L417.2 983.0L417.7 981.0L418.2 979.0L418.7 977.0L419.2 975.0L419.7 972.4L420.2 968.8L420.7 965.3L421.2 961.8L421.7 958.2L422.2 954.7L422.7 952.0L423.2 949.8L423.7 947.6L424.2 945.4L424.7 943.2L425.2 941.0L425.7 939.7L426.2 936.9L426.7 933.3L427.2 929.6L427.7 926.0L428.2 929.5L428.7 933.1L429.2 936.6L429.7 939.4L430.2 940.0L430.7 940.5L431.2 941.1L431.7 941.7L432.2 942.4L432.7 943.1L433.2 943.8L433.7 944.4L434.2 945.1L434.7 945.8L435.2 946.5L435.7 947.1L436.2 947.8L436.7 948.5L437.2 949.1L437.7 949.4L438.2 949.7L438.7 950.1L439.2 950.4L439.7 950.7L440.2 951.1L440.7 951.4L441.2 951.7L441.7 952.1L442.2 952.4L442.7 952.7L443.2 952.7L443.7 952.5L444.2 952.3L444.7 952.1L445.2 951.9L445.7 951.7L446.2 951.5L446.7 951.3L447.2 951.1L447.7 951.0L448.2 950.9L448.7 950.8L449.2 950.6L449.7 950.5L450.2 950.4L450.7 950.3L451.2 950.2L451.7 950.0L452.2 950.5L452.7 950.9L453.2 951.3L453.7 951.7L454.2 952.1L454.7 952.6L455.2 953.0L455.7 953.4L456.2 953.8L456.7 954.2L457.2 954.7L457.7 955.1L458.2 955.4L458.7 955.7L459.2 956.0L459.7 956.3L460.2 956.6L460.7 956.9L461.2 957.2L461.7 957.5L462.2 957.8L462.7 958.1L463.2 958.4L463.7 958.7L464.2 959.0L464.7 959.3L465.2 959.6L465.7 959.8L466.2 960.0L466.7 960.2L467.2 960.4L467.7 960.6L468.2 960.8L468.7 961.0L469.2 961.2L469.7 961.4L470.2 961.6L470.7 961.8L471.2 962.0L471.7 962.2L472.2 962.4L472.7 962.6L473.2 962.8L473.7 963.0L474.2 962.9L474.7 962.7L475.2 962.5L475.7 962.4L476.2 962.2L476.7 962.0L477.2 961.8L477.7 961.7L478.2 961.5L478.7 961.3L479.2 961.2L479.7 960.9L480.2 960.5L480.7 960.1L481.2 959.7L481.7 959.3L482.2 958.9L482.7 958.5L483.2 958.1L483.7 957.7L484.2 957.3L484.7 956.9L485.2 956.5L485.7 956.1L486.2 955.7L486.7 955.3L487.2 954.8L487.7 954.3L488.2 953.8L488.7 953.4L489.2 952.9L489.7 952.4L490.2 951.9L490.7 951.4L491.2 950.9L491.7 950.4L492.2 949.9L492.7 949.4L493.2 948.9L493.7 948.4L494.2 948.0L494.7 947.7L495.2 947.5L495.7 947.2L496.2 947.0L496.7 946.7L497.2 946.5L497.7 946.3L498.2 946.0L498.7 945.8L499.2 945.5L499.7 945.3L500.2 945.2L500.7 945.3L501.2 945.4L501.7 945.5L502.2 945.6L502.7 945.7L503.2 945.8L503.7 945.9L504.2 946.0L504.7 946.2L505.2 946.3L505.7 946.4L506.2 946.5L506.7 946.6L507.2 946.7L507.7 947.0L508.2 947.4L508.7 947.7L509.2 948.1L509.7 948.5L510.2 948.9L510.7 949.2L511.2 949.6L511.7 950.0L512.2 950.3L512.7 950.7L513.2 951.1L513.7 951.7L514.2 952.4L514.7 953.1L515.2 953.8L515.7 954.4L516.2 955.1L516.7 955.8L517.2 956.5L517.7 957.1L518.2 957.4L518.7 957.7L519.2 958.1L519.7 958.4L520.2 957.9L520.7 956.9L521.2 955.9L521.7 954.9L522.2 953.9L522.7 952.8L523.2 951.3L523.7 949.6L524.2 948.0L524.7 946.3L525.2 944.6L525.7 943.0L526.2 941.3L526.7 940.4L527.2 939.6L527.7 938.9L528.2 938.2L528.7 937.4L529.2 936.7L529.7 935.9L530.2 935.2L530.7 934.4L531.2 933.7L531.7 933.0L532.2 932.2L532.7 931.9L533.2 931.5L533.7 931.2L534.2 930.9L534.7 930.5L535.2 930.2L535.7 929.9L536.2 929.5L536.7 929.2L537.2 928.8L537.7 928.5L538.2 928.2L538.7 927.8L539.2 927.5L539.7 927.0L540.2 926.3L540.7 925.6L541.2 925.0L541.7 924.3L542.2 923.6L542.7 922.9L543.2 922.2L543.7 921.6L544.2 920.9L544.7 920.2L545.2 919.5L545.7 918.7L546.2 917.9L546.7 917.1L547.2 916.2L547.7 915.4L548.2 914.6L548.7 913.7L549.2 912.9L549.7 912.0L550.2 911.5L550.7 911.0L551.2 910.5L551.7 910.0L552.2 909.5L552.7 909.0L553.2 909.4L553.7 909.9L554.2 910.3L554.7 910.7L555.2 911.2L555.7 911.6L556.2 912.1L556.7 912.5L557.2 912.9L557.7 913.4L558.2 913.9L558.7 914.3L559.2 914.8L559.7 915.3L560.2 915.8L560.7 916.2L561.2 916.7L561.7 917.1L562.2 917.3L562.7 917.4L563.2 917.1L563.7 916.8L564.2 916.9L564.7 917.6L565.2 918.3L565.7 918.7L566.2 918.6L566.7 918.3L567.2 917.9L567.7 917.6L568.2 917.2L568.7 916.9L569.2 916.5L569.7 916.2L570.2 915.8L570.7 915.3L571.2 914.7L571.7 914.1L572.2 913.5L572.7 912.9L573.2 912.3L573.7 911.7L574.2 911.2L574.7 910.7L575.2 910.6L575.7 910.5L576.2 910.4L576.7 910.4L577.2 910.0L577.7 908.7L578.2 907.5L578.7 906.7L579.2 907.2L579.7 909.0L580.2 910.9L580.7 912.8L581.2 914.0L581.7 914.7L582.2 915.6L582.7 916.6L583.2 917.6L583.7 918.6L584.2 919.6L584.7 920.6L585.2 921.6L585.7 922.6L586.2 923.7L586.7 924.7L587.2 925.7L587.7 926.7L588.2 927.6L588.7 928.5L589.2 929.3L589.7 930.2L590.2 931.1L590.7 931.9L591.2 932.8L591.7 933.7L592.2 934.5L592.7 935.4L593.2 936.3L593.7 937.1L594.2 937.5L594.7 937.9L595.2 938.3L595.7 938.7L596.2 939.1L596.7 939.4L597.2 939.8L597.7 940.2L598.2 940.6L598.7 941.0L599.2 941.4L599.7 941.8L600.2 942.2L600.7 942.6L601.2 943.1L601.7 943.5L602.2 943.9L602.7 944.4L603.2 944.8L603.7 945.2L604.2 945.9L604.7 946.8L605.2 947.7L605.7 948.6L606.2 949.5L606.7 950.4L607.2 951.3L607.7 952.2L608.2 953.1L608.7 953.9L609.2 954.7L609.7 955.4L610.2 956.2L610.7 956.9L611.2 957.7L611.7 958.5L612.2 959.2L612.7 960.0L613.2 960.7L613.7 961.5L614.2 962.2L614.7 962.8L615.2 963.4L615.7 963.9L616.2 964.5L616.7 965.1L617.2 965.6L617.7 966.2L618.2 966.8L618.7 967.3L619.2 967.9L619.7 968.5L620.2 968.9L620.7 969.1L621.2 969.4L621.7 969.6L622.2 969.9L622.7 970.1L623.2 970.3L623.7 970.6L624.2 970.8L624.7 970.8L625.2 970.5L625.7 970.3L626.2 970.1L626.7 969.8L627.2 969.6L627.7 969.3L628.2 969.1L628.7 968.9L629.2 968.5L629.7 968.0L630.2 967.6L630.7 967.2L631.2 966.7L631.7 966.3L632.2 965.9L632.7 965.5L633.2 965.0L633.7 964.9L634.2 964.8L634.7 964.7L635.2 964.6L635.7 964.5L636.2 964.4L636.7 964.3L637.2 964.2L637.7 964.2L638.2 964.4L638.7 964.6L639.2 964.8L639.7 965.0L640.2 965.2L640.7 965.4L641.2 965.6L641.7 965.8L642.2 966.0L642.7 966.1L643.2 966.2L643.7 966.3L644.2 966.4L644.7 966.5L645.2 966.2L645.7 965.6L646.2 965.0L646.7 964.4L647.2 963.9L647.7 963.3L648.2 962.7L648.7 962.1L649.2 961.4L649.7 960.7L650.2 959.9L650.7 959.2L651.2 958.5L651.7 957.8L652.2 957.0L652.7 956.3L653.2 955.6L653.7 954.8L654.2 954.6L654.7 954.3L655.2 954.0L655.7 953.7L656.2 953.4L656.7 953.2L657.2 952.9L657.7 952.6L658.2 952.4L658.7 952.4L659.2 952.4L659.7 952.4L660.2 952.4L660.7 952.4L661.2 952.4L661.7 952.4L662.2 952.4L662.7 952.4L663.2 952.4L663.7 952.4L664.2 952.5L664.7 952.6L665.2 952.6L665.7 952.7L666.2 952.8L666.7 952.9L667.2 952.9L667.7 953.0L668.2 953.1L668.7 953.2L669.2 953.2L669.7 953.3L670.2 953.2L670.7 952.9L671.2 952.7L671.7 952.5L672.2 952.2L672.7 952.0L673.2 951.8L673.7 951.5L674.2 951.3L674.7 951.0L675.2 950.8L675.7 950.5L676.2 950.3L676.7 950.0L677.2 949.7L677.7 949.5L678.2 949.2L678.7 949.0L679.2 948.7L679.7 948.5L680.2 948.4L680.7 948.5L681.2 948.7L681.7 948.8L682.2 948.9L682.7 949.0L683.2 949.1L683.7 949.3L684.2 949.4L684.7 949.5L685.2 949.7L685.7 950.0L686.2 950.2L686.7 950.5L687.2 950.7L687.7 951.0L688.2 951.2L688.7 951.5L689.2 951.7L689.7 952.0L690.2 952.2L690.7 952.5L691.2 952.7L691.7 952.9L692.2 953.1L692.7 953.4L693.2 953.6L693.7 953.8L694.2 954.0L694.7 954.3L695.2 954.5L695.7 954.7L696.2 954.8L696.7 954.5L697.2 954.3L697.7 954.0L698.2 953.8L698.7 953.6L699.2 953.2L699.7 952.5L700.2 952.2L700.7 952.4L701.2 952.3L701.7 952.0L702.2 951.6L702.7 951.3L703.2 950.9L703.7 950.6L704.2 950.2L704.7 949.8L705.2 949.5L705.7 949.1L706.2 948.8L706.7 948.4L707.2 948.3L707.7 948.2L708.2 948.0L708.7 947.9L709.2 947.8L709.7 947.7L710.2 947.6L710.7 947.4L711.2 947.3L711.7 947.2L712.2 947.1L712.7 947.0L713.2 947.0L713.7 947.1L714.2 947.1L714.7 947.2L715.2 947.2L715.7 947.3L716.2 947.4L716.7 947.4L717.2 947.5L717.7 947.5L718.2 947.6L718.7 947.6L719.2 947.7L719.7 947.7L720.2 947.8L720.7 947.9L721.2 948.0L721.7 948.1L722.2 948.1L722.7 948.2L723.2 948.3L723.7 948.4L724.2 948.5L724.7 948.5L725.2 948.6L725.7 948.7L726.2 948.8L726.7 948.9L727.2 949.0L727.7 948.9L728.2 948.8L728.7 948.6L729.2 948.5L729.7 948.4L730.2 948.3L730.7 948.2L731.2 948.1L731.7 947.9L732.2 947.8L732.7 947.7L733.2 947.6L733.7 947.1L734.2 946.6L734.7 946.1L735.2 945.5L735.7 945.0L736.2 944.5L736.7 944.0L737.2 943.5L737.7 943.0L738.2 942.5L738.7 942.0L739.2 941.4L739.7 940.3L740.2 938.8L740.7 937.3L741.2 935.8L741.7 934.3L742.2 933.4L742.7 933.4L743.2 933.4L743.7 933.4L744.2 933.4L744.7 933.2L745.2 932.5L745.7 932.0L746.2 931.4L746.7 930.8L747.2 930.3L747.7 929.7L748.2 929.1L748.7 928.6L749.2 928.0L749.7 927.7L750.2 927.5L750.7 927.3L751.2 927.2L751.7 927.0L752.2 926.8L752.7 926.6L753.2 926.4L753.7 926.2L754.2 926.4L754.7 926.6L755.2 926.8L755.7 927.0L756.2 927.2L756.7 927.4L757.2 927.6L757.7 927.8L758.2 928.0L758.7 928.2L759.2 928.4L759.7 928.5L760.2 928.7L760.7 928.8L761.2 928.9L761.7 929.1L762.2 929.2L762.7 929.3L763.2 929.4L763.7 929.6L764.2 929.7L764.7 929.8L765.2 929.9L765.7 929.8L766.2 929.5L766.7 929.1L767.2 928.8L767.7 928.5L768.2 928.2L768.7 927.8L769.2 927.5L769.7 927.2L770.2 926.4L770.7 925.6L771.2 924.7L771.7 923.9L772.2 923.0L772.7 922.2L773.2 921.3L773.7 920.5L774.2 919.7L774.7 919.4L775.2 919.1L775.7 918.7L776.2 918.4L776.7 918.0L777.2 917.7L777.7 917.4L778.2 917.0L778.7 916.9L779.2 917.2L779.7 917.5L780.2 917.7L780.7 918.0L781.2 918.3L781.7 918.6L782.2 918.8L782.7 919.1L783.2 919.5L783.7 919.9L784.2 920.3L784.7 920.7L785.2 921.1L785.7 921.5L786.2 922.0L786.7 922.4L787.2 922.8L787.7 923.2L788.2 923.6L788.7 924.0L789.2 924.5L789.7 924.9L790.2 925.3L790.7 925.8L791.2 926.2L791.7 926.6L792.2 927.0L792.7 927.5L793.2 927.9L793.7 928.3L794.2 928.8L794.7 929.1L795.2 929.3L795.7 929.5L796.2 929.6L796.7 929.8L797.2 929.9L797.7 930.1L798.2 930.2L798.7 930.4L799.2 930.5L799.7 930.7L800.2 930.8L800.7 931.0L801.2 931.2L801.7 931.5L802.2 931.7L802.7 931.9L803.2 932.1L803.7 932.4L804.2 932.6L804.7 932.8L805.2 933.2L805.7 933.7L806.2 934.2L806.7 934.7L807.2 935.2L807.7 935.7L808.2 936.2L808.7 936.7L809.2 937.2L809.7 937.6L810.2 937.9L810.7 938.2L811.2 938.5L811.7 938.8L812.2 939.1L812.7 939.4L813.2 939.7L813.7 940.0L814.2 940.3L814.7 940.6L815.2 940.8L815.7 940.9L816.2 941.0L816.7 941.1L817.2 941.2L817.7 941.2L818.2 941.3L818.7 941.4L819.2 941.5L819.7 941.5L820.2 941.6L820.7 941.7L821.2 941.8L821.7 941.8L822.2 941.9L822.7 942.0L823.2 942.1L823.7 942.2L824.2 942.2L824.7 942.3L825.2 942.4L825.7 942.5L826.2 942.5L826.7 942.6L827.2 943.0L827.7 943.4L828.2 943.8L828.7 944.1L829.2 944.5L829.7 944.9L830.2 945.3L830.7 945.7L831.2 946.1L831.7 947.0L832.2 947.8L832.7 948.6L833.2 949.5L833.7 950.3L834.2 951.1L834.7 951.9L835.2 952.8L835.7 953.6L836.2 954.4L836.7 955.3L837.2 956.1L837.7 956.9L838.2 957.8L838.7 958.6L839.2 959.4L839.7 960.2L840.2 961.0L840.7 961.6L841.2 962.2L841.7 962.8L842.2 963.4L842.7 964.0L843.2 964.6L843.7 965.2L844.2 965.6L844.7 965.9L845.2 966.0L845.7 966.1L846.2 966.3L846.7 966.8L847.2 967.3L847.7 967.8L848.2 968.3L848.7 968.6L849.2 968.7L849.7 968.8L850.2 968.9L850.7 968.9L851.2 969.0L851.7 969.1L852.2 969.2L852.7 969.3L853.2 969.3L853.7 969.4L854.2 969.5L854.7 969.6L855.2 969.6L855.7 969.7L856.2 969.8L856.7 969.9L857.2 970.0L857.7 970.0L858.2 970.1L858.7 970.2L859.2 970.3L859.7 970.3L860.2 970.4L860.7 970.4L861.2 970.2L861.7 970.0L862.2 969.9L862.7 969.7L863.2 969.5L863.7 969.4L864.2 969.2L864.7 969.0L865.2 968.8L865.7 968.4L866.2 968.1L866.7 967.8L867.2 967.5L867.7 967.1L868.2 966.8L868.7 966.5L869.2 966.1L869.7 965.8L870.2 965.5L870.7 965.2L871.2 964.7L871.7 964.2L872.2 963.7L872.7 963.2L873.2 962.7L873.7 962.2L874.2 961.7L874.7 961.2L875.2 960.7L875.7 960.3L876.2 959.8L876.7 959.3L877.2 958.8L877.7 958.2L878.2 957.7L878.7 957.2L879.2 956.7L879.7 956.2L880.2 955.7L880.7 955.2L881.2 954.7L881.7 954.2L882.2 953.7L882.7 953.3L883.2 953.1L883.7 952.8L884.2 952.6L884.7 952.3L885.2 952.1L885.7 951.8L886.2 951.6L886.7 951.4L887.2 951.1L887.7 950.9L888.2 950.6L888.7 950.4L889.2 950.2L889.7 950.1L890.2 949.9L890.7 949.7L891.2 949.5L891.7 949.3L892.2 949.2L892.7 949.0L893.2 948.8L893.7 948.6L894.2 948.4L894.7 948.1L895.2 947.8L895.7 947.4L896.2 947.1L896.7 946.8L897.2 946.4L897.7 946.1L898.2 945.8L898.7 945.4L899.2 945.0L899.7 944.5L900.2 944.1L900.7 943.7L901.2 943.2L901.7 942.8L902.2 942.4L902.7 941.5L903.2 940.5L903.7 939.5L904.2 938.6L904.7 937.7L905.2 937.3L905.7 938.3L906.2 939.4L906.7 940.5L907.2 941.6L907.7 942.5L908.2 942.9L908.7 943.2L909.2 943.6L909.7 944.0L910.2 944.4L910.7 944.8L911.2 945.2L911.7 945.6L912.2 946.0L912.7 946.4L913.2 946.8L913.7 947.0L914.2 947.2L914.7 947.4L915.2 947.6L915.7 947.8L916.2 948.0L916.7 948.2L917.2 948.4L917.7 948.6L918.2 948.8L918.7 949.0L919.2 949.1L919.7 949.1L920.2 949.2L920.7 949.2L921.2 949.3L921.7 949.3L922.2 949.3L922.7 949.4L923.2 949.4L923.7 949.4L924.2 949.5L924.7 949.5L925.2 949.5L925.7 949.6L926.2 949.6L926.7 949.7L927.2 949.7L927.2 953.9L926.7 953.9L926.2 953.8L925.7 953.8L925.2 953.8L924.7 953.7L924.2 953.7L923.7 953.6L923.2 953.6L922.7 953.6L922.2 953.5L921.7 953.5L921.2 953.5L920.7 953.4L920.2 953.4L919.7 953.4L919.2 953.3L918.7 953.2L918.2 953.0L917.7 952.8L917.2 952.6L916.7 952.4L916.2 952.2L915.7 952.0L915.2 951.8L914.7 951.6L914.2 951.4L913.7 951.2L913.2 951.0L912.7 950.6L912.2 950.2L911.7 949.8L911.2 949.4L910.7 949.0L910.2 948.6L909.7 948.2L909.2 947.8L908.7 947.4L908.2 947.1L907.7 946.8L907.2 946.4L906.7 946.1L906.2 945.7L905.7 945.4L905.2 945.2L904.7 945.3L904.2 945.5L903.7 945.7L903.2 945.9L902.7 946.2L902.2 946.6L901.7 947.1L901.2 947.5L900.7 947.9L900.2 948.4L899.7 948.8L899.2 949.2L898.7 949.6L898.2 950.0L897.7 950.3L897.2 950.7L896.7 951.0L896.2 951.3L895.7 951.7L895.2 952.0L894.7 952.3L894.2 952.7L893.7 952.9L893.2 953.0L892.7 953.2L892.2 953.4L891.7 953.6L891.2 953.8L890.7 954.0L890.2 954.1L889.7 954.3L889.2 954.5L888.7 954.7L888.2 954.9L887.7 955.1L887.2 955.4L886.7 955.6L886.2 955.9L885.7 956.1L885.2 956.4L884.7 956.6L884.2 956.8L883.7 957.1L883.2 957.3L882.7 957.6L882.2 957.9L881.7 958.4L881.2 959.0L880.7 959.5L880.2 960.0L879.7 960.5L879.2 961.0L878.7 961.5L878.2 962.0L877.7 962.5L877.2 963.0L876.7 963.5L876.2 964.0L875.7 964.5L875.2 965.0L874.7 965.5L874.2 966.0L873.7 966.5L873.2 967.0L872.7 967.5L872.2 968.0L871.7 968.5L871.2 968.9L870.7 969.4L870.2 969.8L869.7 970.1L869.2 970.4L868.7 970.7L868.2 971.1L867.7 971.4L867.2 971.7L866.7 972.1L866.2 972.4L865.7 972.7L865.2 973.0L864.7 973.3L864.2 973.5L863.7 973.7L863.2 973.8L862.7 974.0L862.2 974.2L861.7 974.3L861.2 974.5L860.7 974.7L860.2 974.7L859.7 974.6L859.2 974.5L858.7 974.5L858.2 974.4L857.7 974.3L857.2 974.2L856.7 974.2L856.2 974.1L855.7 974.0L855.2 973.9L854.7 973.9L854.2 973.8L853.7 973.7L853.2 973.6L852.7 973.6L852.2 973.5L851.7 973.4L851.2 973.3L850.7 973.2L850.2 973.4L849.7 973.6L849.2 973.9L848.7 974.1L848.2 974.1L847.7 974.1L847.2 974.1L846.7 974.1L846.2 974.1L845.7 973.8L845.2 973.2L844.7 972.6L844.2 971.8L843.7 970.9L843.2 970.0L842.7 969.1L842.2 968.2L841.7 967.3L841.2 966.5L840.7 965.9L840.2 965.3L839.7 964.6L839.2 963.7L838.7 962.9L838.2 962.1L837.7 961.2L837.2 960.4L836.7 959.6L836.2 958.8L835.7 957.9L835.2 957.1L834.7 956.3L834.2 955.4L833.7 954.6L833.2 953.8L832.7 952.9L832.2 952.1L831.7 951.3L831.2 950.5L830.7 950.1L830.2 949.7L829.7 949.3L829.2 948.9L828.7 948.5L828.2 948.1L827.7 947.7L827.2 947.3L826.7 946.9L826.2 946.9L825.7 946.8L825.2 946.7L824.7 946.6L824.2 946.6L823.7 946.5L823.2 946.4L822.7 946.3L822.2 946.3L821.7 946.2L821.2 946.1L820.7 946.0L820.2 945.9L819.7 945.9L819.2 945.8L818.7 945.7L818.2 945.6L817.7 945.6L817.2 945.5L816.7 945.4L816.2 945.3L815.7 945.3L815.2 945.2L814.7 944.9L814.2 944.6L813.7 944.3L813.2 944.0L812.7 943.7L812.2 943.4L811.7 943.1L811.2 942.8L810.7 942.5L810.2 942.2L809.7 941.9L809.2 941.6L808.7 941.1L808.2 940.6L807.7 940.1L807.2 939.6L806.7 939.1L806.2 938.6L805.7 938.1L805.2 937.6L804.7 937.2L804.2 937.0L803.7 936.7L803.2 936.5L802.7 936.3L802.2 936.1L801.7 935.8L801.2 935.6L800.7 935.4L800.2 935.2L799.7 935.0L799.2 934.9L798.7 934.7L798.2 934.6L797.7 934.4L797.2 934.3L796.7 934.1L796.2 934.0L795.7 933.8L795.2 933.7L794.7 933.5L794.2 933.1L793.7 932.7L793.2 932.3L792.7 931.8L792.2 931.4L791.7 931.0L791.2 930.6L790.7 930.1L790.2 929.7L789.7 929.3L789.2 928.8L788.7 928.4L788.2 928.0L787.7 927.6L787.2 927.2L786.7 926.7L786.2 926.3L785.7 925.9L785.2 925.5L784.7 925.1L784.2 924.7L783.7 924.3L783.2 923.8L782.7 923.5L782.2 923.2L781.7 922.9L781.2 922.7L780.7 922.4L780.2 922.1L779.7 921.8L779.2 921.6L778.7 921.3L778.2 921.4L777.7 921.7L777.2 922.1L776.7 922.4L776.2 922.8L775.7 923.1L775.2 923.4L774.7 923.8L774.2 924.1L773.7 924.9L773.2 925.7L772.7 926.6L772.2 927.4L771.7 928.3L771.2 929.1L770.7 930.0L770.2 930.8L769.7 931.6L769.2 931.9L768.7 932.2L768.2 932.6L767.7 932.9L767.2 933.2L766.7 933.5L766.2 933.9L765.7 934.2L765.2 934.4L764.7 934.2L764.2 934.1L763.7 934.0L763.2 933.8L762.7 933.7L762.2 933.6L761.7 933.5L761.2 933.3L760.7 933.2L760.2 933.1L759.7 933.0L759.2 932.8L758.7 932.6L758.2 932.4L757.7 932.2L757.2 932.0L756.7 931.8L756.2 931.6L755.7 931.4L755.2 931.2L754.7 931.0L754.2 930.8L753.7 930.6L753.2 930.8L752.7 931.0L752.2 931.2L751.7 931.4L751.2 931.6L750.7 931.8L750.2 932.0L749.7 932.2L749.2 932.4L748.7 933.0L748.2 933.6L747.7 934.1L747.2 934.7L746.7 935.3L746.2 935.8L745.7 936.4L745.2 937.0L744.7 937.6L744.2 938.4L743.7 939.1L743.2 939.8L742.7 940.9L742.2 942.0L741.7 942.6L741.2 943.0L740.7 943.6L740.2 944.3L739.7 945.1L739.2 945.8L738.7 946.4L738.2 946.9L737.7 947.4L737.2 947.9L736.7 948.5L736.2 949.0L735.7 949.5L735.2 950.0L734.7 950.5L734.2 951.0L733.7 951.5L733.2 952.0L732.7 952.1L732.2 952.3L731.7 952.4L731.2 952.5L730.7 952.6L730.2 952.7L729.7 952.9L729.2 953.0L728.7 953.1L728.2 953.2L727.7 953.3L727.2 953.4L726.7 953.3L726.2 953.2L725.7 953.2L725.2 953.1L724.7 953.0L724.2 952.9L723.7 952.8L723.2 952.8L722.7 952.7L722.2 952.6L721.7 952.5L721.2 952.4L720.7 952.3L720.2 952.3L719.7 952.2L719.2 952.1L718.7 952.1L718.2 952.0L717.7 952.0L717.2 951.9L716.7 951.9L716.2 951.8L715.7 951.8L715.2 951.7L714.7 951.7L714.2 951.6L713.7 951.5L713.2 951.5L712.7 951.4L712.2 951.6L711.7 951.7L711.2 951.8L710.7 951.9L710.2 952.0L709.7 952.1L709.2 952.3L708.7 952.4L708.2 952.5L707.7 952.6L707.2 952.7L706.7 952.9L706.2 953.3L705.7 953.6L705.2 954.0L704.7 954.3L704.2 954.7L703.7 955.0L703.2 955.4L702.7 955.7L702.2 956.1L701.7 957.1L701.2 958.1L700.7 959.0L700.2 959.8L699.7 959.9L699.2 959.6L698.7 959.2L698.2 958.8L697.7 958.5L697.2 958.8L696.7 959.0L696.2 959.2L695.7 959.2L695.2 959.0L694.7 958.8L694.2 958.5L693.7 958.3L693.2 958.1L692.7 957.9L692.2 957.6L691.7 957.4L691.2 957.2L690.7 956.9L690.2 956.7L689.7 956.4L689.2 956.2L688.7 955.9L688.2 955.7L687.7 955.4L687.2 955.2L686.7 954.9L686.2 954.7L685.7 954.4L685.2 954.2L684.7 954.0L684.2 953.9L683.7 953.8L683.2 953.6L682.7 953.5L682.2 953.4L681.7 953.3L681.2 953.2L680.7 953.0L680.2 952.9L679.7 953.0L679.2 953.2L678.7 953.5L678.2 953.7L677.7 954.0L677.2 954.3L676.7 954.5L676.2 954.8L675.7 955.0L675.2 955.3L674.7 955.5L674.2 955.8L673.7 956.0L673.2 956.3L672.7 956.5L672.2 956.7L671.7 957.0L671.2 957.2L670.7 957.4L670.2 957.7L669.7 957.8L669.2 957.8L668.7 957.7L668.2 957.6L667.7 957.5L667.2 957.5L666.7 957.4L666.2 957.3L665.7 957.2L665.2 957.2L664.7 957.1L664.2 957.0L663.7 957.0L663.2 957.0L662.7 957.0L662.2 957.0L661.7 957.0L661.2 957.0L660.7 957.0L660.2 957.0L659.7 957.0L659.2 957.0L658.7 957.0L658.2 957.0L657.7 957.1L657.2 957.4L656.7 957.7L656.2 958.0L655.7 958.3L655.2 958.5L654.7 958.8L654.2 959.1L653.7 959.4L653.2 960.1L652.7 960.8L652.2 961.6L651.7 962.3L651.2 963.0L650.7 963.7L650.2 964.5L649.7 965.2L649.2 965.9L648.7 966.7L648.2 967.3L647.7 967.8L647.2 968.4L646.7 969.0L646.2 969.6L645.7 970.1L645.2 970.7L644.7 971.0L644.2 970.9L643.7 970.8L643.2 970.7L642.7 970.6L642.2 970.5L641.7 970.4L641.2 970.1L640.7 969.9L640.2 969.7L639.7 969.5L639.2 969.3L638.7 969.1L638.2 968.9L637.7 968.7L637.2 968.8L636.7 968.9L636.2 969.0L635.7 969.1L635.2 969.2L634.7 969.3L634.2 969.4L633.7 969.5L633.2 969.6L632.7 970.0L632.2 970.4L631.7 970.9L631.2 971.3L630.7 971.7L630.2 972.2L629.7 972.6L629.2 973.0L628.7 973.4L628.2 973.7L627.7 973.9L627.2 974.1L626.7 974.4L626.2 974.6L625.7 975.2L625.2 975.9L624.7 976.5L624.2 976.9L623.7 976.6L623.2 976.0L622.7 975.3L622.2 974.7L621.7 974.2L621.2 974.0L620.7 973.7L620.2 973.5L619.7 973.0L619.2 972.5L618.7 971.9L618.2 971.3L617.7 970.8L617.2 970.2L616.7 969.6L616.2 969.1L615.7 968.5L615.2 967.9L614.7 967.4L614.2 966.8L613.7 966.1L613.2 965.3L612.7 964.6L612.2 963.8L611.7 963.1L611.2 962.3L610.7 961.5L610.2 960.8L609.7 960.0L609.2 959.3L608.7 958.5L608.2 957.7L607.7 956.8L607.2 955.9L606.7 955.0L606.2 954.1L605.7 953.2L605.2 952.3L604.7 951.4L604.2 950.5L603.7 949.8L603.2 949.4L602.7 949.0L602.2 948.5L601.7 948.1L601.2 947.7L600.7 947.2L600.2 946.8L599.7 946.4L599.2 946.0L598.7 945.6L598.2 945.2L597.7 944.9L597.2 944.5L596.7 944.1L596.2 943.7L595.7 943.4L595.2 943.0L594.7 942.6L594.2 942.2L593.7 941.9L593.2 941.0L592.7 940.1L592.2 939.3L591.7 938.4L591.2 937.6L590.7 936.7L590.2 935.8L589.7 935.0L589.2 934.1L588.7 933.3L588.2 932.4L587.7 931.5L587.2 930.5L586.7 929.5L586.2 928.5L585.7 927.5L585.2 926.5L584.7 925.5L584.2 924.5L583.7 923.5L583.2 922.5L582.7 921.5L582.2 920.5L581.7 919.6L581.2 918.9L580.7 918.3L580.2 917.6L579.7 916.9L579.2 916.2L578.7 915.5L578.2 915.1L577.7 915.2L577.2 915.3L576.7 915.4L576.2 915.4L575.7 915.5L575.2 915.6L574.7 915.7L574.2 916.2L573.7 916.8L573.2 917.4L572.7 918.0L572.2 918.6L571.7 919.2L571.2 919.8L570.7 920.4L570.2 921.0L569.7 921.3L569.2 921.7L568.7 922.0L568.2 922.4L567.7 922.7L567.2 923.1L566.7 923.4L566.2 923.9L565.7 924.8L565.2 925.3L564.7 925.9L564.2 926.4L563.7 926.1L563.2 925.1L562.7 924.1L562.2 923.2L561.7 922.3L561.2 922.0L560.7 921.5L560.2 921.0L559.7 920.6L559.2 920.1L558.7 919.6L558.2 919.2L557.7 918.7L557.2 918.3L556.7 917.8L556.2 917.4L555.7 917.0L555.2 916.5L554.7 916.1L554.2 915.7L553.7 915.3L553.2 914.8L552.7 914.4L552.2 914.9L551.7 915.4L551.2 915.9L550.7 916.4L550.2 916.9L549.7 917.5L549.2 918.3L548.7 919.2L548.2 920.0L547.7 920.9L547.2 921.7L546.7 922.6L546.2 923.4L545.7 924.3L545.2 925.0L544.7 925.7L544.2 926.4L543.7 927.1L543.2 927.8L542.7 928.5L542.2 929.2L541.7 929.9L541.2 930.6L540.7 931.3L540.2 931.9L539.7 932.6L539.2 933.1L538.7 933.5L538.2 933.8L537.7 934.2L537.2 934.5L536.7 934.9L536.2 935.2L535.7 935.5L535.2 935.9L534.7 936.2L534.2 936.6L533.7 936.9L533.2 937.3L532.7 937.6L532.2 938.0L531.7 938.7L531.2 939.5L530.7 940.2L530.2 941.0L529.7 941.7L529.2 942.5L528.7 943.2L528.2 944.0L527.7 944.7L527.2 945.5L526.7 946.2L526.2 947.2L525.7 948.8L525.2 950.5L524.7 952.2L524.2 953.9L523.7 955.5L523.2 957.2L522.7 958.8L522.2 959.8L521.7 961.3L521.2 963.7L520.7 966.0L520.2 968.4L519.7 968.6L519.2 966.9L518.7 965.3L518.2 963.6L517.7 963.1L517.2 962.5L516.7 961.8L516.2 961.1L515.7 960.5L515.2 959.8L514.7 959.1L514.2 958.5L513.7 957.8L513.2 957.1L512.7 956.8L512.2 956.4L511.7 956.1L511.2 955.7L510.7 955.3L510.2 955.0L509.7 954.6L509.2 954.3L508.7 953.9L508.2 953.5L507.7 953.2L507.2 952.9L506.7 952.8L506.2 952.7L505.7 952.6L505.2 952.5L504.7 952.4L504.2 952.3L503.7 952.2L503.2 952.1L502.7 952.0L502.2 951.9L501.7 951.8L501.2 951.7L500.7 951.6L500.2 951.5L499.7 951.6L499.2 951.9L498.7 952.1L498.2 952.4L497.7 952.6L497.2 952.9L496.7 953.1L496.2 953.4L495.7 953.6L495.2 953.9L494.7 954.1L494.2 954.4L493.7 954.8L493.2 955.3L492.7 955.8L492.2 956.3L491.7 956.8L491.2 957.3L490.7 957.8L490.2 958.3L489.7 958.8L489.2 959.3L488.7 959.8L488.2 960.4L487.7 960.9L487.2 961.4L486.7 961.8L486.2 962.3L485.7 962.7L485.2 963.1L484.7 963.5L484.2 963.9L483.7 964.3L483.2 964.7L482.7 965.1L482.2 965.5L481.7 965.9L481.2 966.3L480.7 966.7L480.2 967.2L479.7 967.6L479.2 967.8L478.7 968.0L478.2 968.2L477.7 968.4L477.2 968.5L476.7 968.7L476.2 968.9L475.7 969.1L475.2 969.2L474.7 969.4L474.2 969.6L473.7 969.8L473.2 969.6L472.7 969.4L472.2 969.2L471.7 969.0L471.2 968.8L470.7 968.6L470.2 968.4L469.7 968.2L469.2 968.0L468.7 967.8L468.2 967.6L467.7 967.4L467.2 967.2L466.7 967.0L466.2 966.9L465.7 966.7L465.2 966.5L464.7 966.2L464.2 965.9L463.7 965.6L463.2 965.3L462.7 965.0L462.2 964.7L461.7 964.4L461.2 964.1L460.7 963.9L460.2 963.6L459.7 963.3L459.2 963.0L458.7 962.7L458.2 962.4L457.7 962.1L457.2 961.7L456.7 961.3L456.2 960.9L455.7 960.4L455.2 960.0L454.7 959.6L454.2 959.2L453.7 958.8L453.2 958.4L452.7 958.0L452.2 957.6L451.7 957.2L451.2 957.3L450.7 957.4L450.2 957.5L449.7 957.7L449.2 957.8L448.7 957.9L448.2 958.1L447.7 958.2L447.2 958.3L446.7 958.5L446.2 958.8L445.7 959.0L445.2 959.2L444.7 959.4L444.2 959.6L443.7 959.8L443.2 960.0L442.7 960.0L442.2 959.7L441.7 959.4L441.2 959.0L440.7 958.7L440.2 958.4L439.7 958.1L439.2 957.7L438.7 957.4L438.2 957.1L437.7 956.8L437.2 956.4L436.7 955.9L436.2 955.2L435.7 954.5L435.2 953.9L434.7 953.2L434.2 952.5L433.7 951.9L433.2 951.2L432.7 950.5L432.2 949.9L431.7 949.2L431.2 948.5L430.7 948.0L430.2 947.5L429.7 946.9L429.2 946.4L428.7 945.8L428.2 945.3L427.7 944.8L427.2 945.4L426.7 946.0L426.2 946.7L425.7 947.3L425.2 948.6L424.7 950.8L424.2 953.0L423.7 955.2L423.2 957.4L422.7 959.6L422.2 962.3L421.7 965.9L421.2 969.4L420.7 972.9L420.2 976.5L419.7 980.0L419.2 982.6L418.7 984.7L418.2 986.7L417.7 989.1L417.2 991.9L416.7 994.6L416.2 996.1L415.7 997.3L415.2 998.6L414.7 999.8L414.2 1001.0L413.7 1002.2L413.2 1001.2L412.7 1000.1L412.2 999.1L411.7 998.0L411.2 997.0L410.7 995.9L410.2 994.9L409.7 993.8L409.2 993.1L408.7 992.5L408.2 991.9L407.7 991.3L407.2 990.6L406.7 990.0L406.2 989.4L405.7 988.8L405.2 988.2L404.7 987.6L404.2 987.0L403.7 986.3L403.2 985.6L402.7 984.8L402.2 984.0L401.7 983.1L401.2 982.3L400.7 981.5L400.2 980.6L399.7 979.8L399.2 978.9L398.7 977.4L398.2 975.4L397.7 973.4L397.2 971.3L396.7 969.3L396.2 967.3L395.7 964.1L395.2 960.5L394.7 957.0L394.2 953.5L393.7 949.9L393.2 946.4L392.7 942.5L392.2 938.7L391.7 934.8L391.2 931.0L390.7 927.1L390.2 923.7L389.7 922.2L389.2 920.7L388.7 919.1L388.2 917.6L387.7 917.3L387.2 917.7L386.7 918.2L386.2 918.7L385.7 919.1L385.2 919.8L384.7 920.8L384.2 921.7L383.7 922.7L383.2 923.7L382.7 924.6L382.2 925.5L381.7 926.2L381.2 926.9L380.7 927.6L380.2 928.3L379.7 929.0L379.2 929.7L378.7 930.4L378.2 930.4L377.7 930.3L377.2 930.2L376.7 930.0L376.2 929.9L375.7 929.8L375.2 929.8L374.7 930.0L374.2 930.2L373.7 930.4L373.2 930.6L372.7 930.8L372.2 931.0L371.7 930.6L371.2 929.9L370.7 929.3L370.2 928.6L369.7 927.9L369.2 927.1L368.7 926.2L368.2 925.6L367.7 925.1L367.2 924.6L366.7 924.1L366.2 923.6L365.7 923.1L365.2 922.6L364.7 922.1L364.2 921.6L363.7 921.1L363.2 920.5L362.7 919.7L362.2 918.8L361.7 918.0L361.2 917.2L360.7 916.3L360.2 915.5L359.7 914.7L359.2 913.9L358.7 913.0L358.2 912.0L357.7 911.1L357.2 910.2L356.7 909.2L356.2 908.3L355.7 907.4L355.2 906.4L354.7 905.6L354.2 905.5L353.7 905.4L353.2 905.4L352.7 905.4L352.2 905.3L351.7 905.3L351.2 905.3L350.7 905.6L350.2 905.9L349.7 906.3L349.2 906.6L348.7 906.9L348.2 907.3L347.7 907.6L347.2 908.0L346.7 908.7L346.2 909.6L345.7 910.4L345.2 911.2L344.7 912.0L344.2 912.9L343.7 913.7L343.2 914.5L342.7 915.5L342.2 916.6L341.7 917.7L341.2 918.9L340.7 920.0L340.2 921.1L339.7 922.3L339.2 923.4L338.7 924.5L338.2 925.7L337.7 927.1L337.2 928.6L336.7 929.9L336.2 931.2L335.7 932.5L335.2 933.8L334.7 934.7L334.2 935.4L333.7 936.1L333.2 936.8L332.7 937.5L332.2 938.2L331.7 938.9L331.2 939.9L330.7 940.7L330.2 941.4L329.7 942.2L329.2 942.9L328.7 943.7L328.2 944.4L327.7 945.2L327.2 945.9L326.7 946.7L326.2 947.4L325.7 948.2L325.2 948.8L324.7 949.1L324.2 949.4L323.7 949.7L323.2 950.1L322.7 950.4L322.2 950.7L321.7 951.0L321.2 951.3L320.7 951.7L320.2 952.0L319.7 952.3L319.2 952.5L318.7 952.7L318.2 952.9L317.7 953.1L317.2 953.3L316.7 953.5L316.2 953.6L315.7 953.8L315.2 954.0L314.7 954.2L314.2 954.4L313.7 954.5L313.2 954.6L312.7 954.7L312.2 954.7L311.7 954.8L311.2 954.8L310.7 954.9L310.2 954.9L309.7 955.0L309.2 955.1L308.7 955.1L308.2 954.9L307.7 954.1L307.2 953.4L306.7 952.7L306.2 952.0L305.7 951.3L305.2 950.6L304.7 949.4L304.2 947.7L303.7 945.9L303.2 944.2L302.7 942.4L302.2 940.7L301.7 939.3L301.2 938.3L300.7 937.2L300.2 936.2L299.7 935.2L299.2 935.4L298.7 935.9L298.2 936.4L297.7 936.9L297.2 938.5L296.7 940.5L296.2 942.4L295.7 944.4L295.2 946.3L294.7 948.3L294.2 950.7L293.7 953.2L293.2 955.7L292.7 958.3L292.2 960.8L291.7 963.4L291.2 965.3L290.7 968.2L290.2 971.1L289.7 974.0L289.2 974.7L288.7 971.9L288.2 969.0L287.7 966.2L287.2 964.0L286.7 963.4L286.2 962.4L285.7 961.4L285.2 960.5L284.7 959.5L284.2 958.6L283.7 957.6L283.2 956.6L282.7 956.0L282.2 955.8L281.7 955.7L281.2 955.5L280.7 955.3L280.2 955.1L279.7 955.0L279.2 954.8L278.7 954.6L278.2 954.4L277.7 954.2L277.2 954.0L276.7 953.8L276.2 953.6L275.7 953.4L275.2 953.2L274.7 953.0L274.2 952.8L273.7 952.6L273.2 952.4L272.7 952.2L272.2 951.7L271.7 951.3L271.2 950.9L270.7 950.5L270.2 950.1L269.7 949.7L269.2 949.3L268.7 949.4L268.2 949.6L267.7 949.7L267.2 949.9L266.7 950.0L266.2 950.2L265.7 951.4L265.2 952.7L264.7 953.9L264.2 955.2L263.7 956.5L263.2 957.9L262.7 960.2L262.2 962.5L261.7 964.8L261.2 967.0L260.7 969.3L260.2 971.5L259.7 974.3L259.2 977.1L258.7 979.9L258.2 982.7L257.7 982.6L257.2 980.6L256.7 978.6L256.2 976.5L255.7 974.5L255.2 973.5L254.7 972.6L254.2 971.6L253.7 970.6L253.2 969.7L252.7 968.7L252.2 967.8L251.7 966.4L251.2 965.1L250.7 963.8L250.2 962.4L249.7 961.1L249.2 959.7L248.7 958.4L248.2 957.0L247.7 955.7L247.2 954.2L246.7 952.7L246.2 951.2L245.7 949.7L245.2 948.2L244.7 946.7L244.2 945.3L243.7 943.8L243.2 942.6L242.7 942.0L242.2 941.4L241.7 940.8L241.2 940.2L240.7 939.6L240.2 939.6L239.7 940.0L239.2 940.5L238.7 940.9L238.2 941.3L237.7 942.4L237.2 943.6L236.7 944.9L236.2 946.2L235.7 947.4L235.2 948.7L234.7 949.9L234.2 951.0L233.7 952.2L233.2 953.4L232.7 954.5L232.2 955.5L231.7 955.3L231.2 955.2L230.7 955.1L230.2 954.9L229.7 954.8L229.2 954.7L228.7 954.5L228.2 954.1L227.7 953.7L227.2 953.3L226.7 952.9L226.2 952.5L225.7 952.1L225.2 951.7L224.7 951.4L224.2 951.8L223.7 951.9L223.2 951.5L222.7 951.7L222.2 951.9L221.7 954.0L221.2 955.7L220.7 957.5L220.2 959.2L219.7 960.9L219.2 962.6L218.7 964.3L218.2 966.0L217.7 967.7L217.2 969.4L216.7 971.1L216.2 972.7L215.7 974.4L215.2 976.1L214.7 977.8L214.2 979.5L213.7 981.1L213.2 982.8L212.7 984.5L212.2 986.2L211.7 987.8L211.2 989.5L210.7 991.2L210.2 989.9L209.7 987.9L209.2 985.9L208.7 983.8L208.2 981.8L207.7 979.8L207.2 978.3L206.7 976.8L206.2 975.2L205.7 973.7L205.2 972.2L204.7 971.4L204.2 973.4L203.7 975.4L203.2 977.5L202.7 979.5L202.2 981.5L201.7 983.3L201.2 984.7L200.7 986.2L200.2 987.6L199.7 989.1L199.2 990.5L198.7 992.0L198.2 993.4L197.7 993.3L197.2 992.2L196.7 991.1L196.2 990.0L195.7 988.9L195.2 987.8L194.7 986.7L194.2 985.6L193.7 983.1L193.2 980.6L192.7 978.1L192.2 975.5L191.7 973.0L191.2 970.5L190.7 968.0L190.2 964.0L189.7 960.0L189.2 956.1L188.7 952.1L188.2 948.1L187.7 944.1L187.2 940.2L186.7 936.2L186.2 932.1L185.7 927.7L185.2 923.3L184.7 918.9L184.2 914.4L183.7 910.0L183.2 905.6L182.7 901.2L182.2 896.8L181.7 893.2L181.2 890.1L180.7 887.0L180.2 884.0L179.7 880.9L179.2 877.8L178.7 874.8L178.2 871.7L177.7 868.6L177.2 868.9L176.7 870.1L176.2 871.3L175.7 872.5L175.2 873.7L174.7 874.9L174.2 876.1L173.7 876.7L173.2 875.1L172.7 873.5L172.2 871.9L171.7 870.4L171.2 868.8L170.7 867.2L170.2 865.6L169.7 862.2L169.2 858.9L168.7 855.5L168.2 852.1L167.7 848.7L167.2 845.4L166.7 842.0L166.2 838.1L165.7 834.2L165.2 830.2L164.7 826.3L164.2 822.4L163.7 818.5L163.2 814.6L162.7 814.9L162.2 818.2L161.7 821.4L161.2 824.6L160.7 827.8L160.2 831.0L159.7 834.3L159.2 837.5L158.7 840.7L158.2 845.6L157.7 851.6L157.2 857.7L156.7 863.7L156.2 869.7L155.7 875.7L155.2 881.8L154.7 887.8L154.2 893.8L153.7 899.3L153.2 904.7L152.7 910.1L152.2 915.5L151.7 920.9L151.2 926.3L150.7 931.7L150.2 937.0L149.7 942.0L149.2 947.0L148.7 952.0L148.2 957.0L147.7 962.0L147.2 964.0L146.7 965.9L146.2 967.9L145.7 969.8L145.2 970.4L144.7 968.9L144.2 967.5L143.7 966.0L143.2 964.5L142.7 963.1L142.2 962.6L141.7 963.6L141.2 964.6L140.7 965.6L140.2 966.6L139.7 967.6L139.2 968.6L138.7 969.6L138.2 970.6L137.7 971.9L137.2 973.3L136.7 974.8L136.2 976.2L135.7 977.7L135.2 979.2L134.7 980.6L134.2 980.1L133.7 978.4L133.2 976.6L132.7 974.9L132.2 973.1L131.7 971.4L131.2 969.1L130.7 966.7L130.2 964.4L129.7 962.0L129.2 959.6L128.7 957.3L128.2 954.9L127.7 953.0L127.2 953.0L126.7 953.0L126.2 953.0L125.7 953.0L125.2 953.0L124.7 953.0L124.2 953.0L123.7 952.5L123.2 952.2L122.7 952.0L122.2 951.8L121.7 951.6L121.2 951.4L120.7 951.2L120.2 951.0L119.7 950.8L119.2 950.6L118.7 950.4L118.2 950.2L117.7 950.1L117.2 950.1L116.7 950.1L116.2 950.1L115.7 950.1L115.2 950.1L114.7 950.1L114.2 950.2L113.7 950.2L113.2 950.2L112.7 950.2L112.2 950.2L111.7 950.2L111.2 950.2L110.7 950.2L110.2 950.2L109.7 950.2L109.2 950.2L108.7 950.3L108.2 950.3L107.7 950.3L107.2 950.3L106.7 950.3L106.2 950.3L105.7 950.3L105.2 950.3L104.7 950.3L104.2 950.3L103.7 950.3L103.2 950.3L102.7 950.4L102.2 950.4L101.7 950.4L101.2 950.4L100.7 950.4L100.2 950.4L99.7 950.4L99.2 950.4L98.7 950.4L98.2 950.4L97.7 950.4L97.2 950.4L96.7 950.4L96.2 950.4L95.7 950.4L95.2 950.5L94.7 950.5L94.2 950.5L93.7 950.5L93.2 950.5L92.7 950.5L92.2 950.5L91.7 950.5L91.2 950.5L90.7 950.5L90.2 950.5L89.7 950.5L89.2 950.5L88.7 950.5L88.2 950.5L87.7 950.5L87.2 950.5L86.7 950.6L86.2 950.6L85.7 950.6L85.2 950.6L84.7 950.6L84.2 950.6L83.7 950.6L83.2 950.6L82.7 950.6Z" fill="#58b152" fill-opacity="0.72" filter="url(#b2)"/>
<path d="M82.7 950.6C85.6 950.6 93.2 950.5 100.0 950.4C106.8 950.3 118.5 949.7 123.4 950.0C128.3 950.3 127.7 951.2 129.3 952.0C130.9 952.8 131.7 955.1 132.8 954.9C133.9 954.6 134.6 953.2 135.7 950.5C136.8 947.8 138.4 941.7 139.5 938.8C140.6 935.9 141.2 935.3 142.4 932.9C143.6 930.5 145.6 928.0 146.8 924.1C148.0 920.2 148.8 916.8 149.8 909.5C150.8 902.2 151.7 892.4 152.7 880.2C153.7 868.0 154.6 850.4 155.6 836.3C156.6 822.2 157.7 806.1 158.5 795.4C159.3 784.7 159.9 776.7 160.6 772.0C161.3 767.3 162.0 766.0 162.6 767.0C163.2 768.0 163.6 771.1 164.4 777.8C165.2 784.5 166.3 797.7 167.3 807.0C168.3 816.3 169.5 827.9 170.2 833.4C170.9 838.9 171.0 838.7 171.7 839.9C172.4 841.1 173.6 840.7 174.6 840.7C175.6 840.7 176.8 838.7 177.6 839.9C178.4 841.1 178.9 843.2 179.6 848.0C180.3 852.8 181.1 859.7 182.0 868.5C182.9 877.3 183.9 890.0 184.9 900.7C185.9 911.4 186.8 923.1 187.8 932.9C188.8 942.7 189.7 952.2 190.7 959.3C191.7 966.4 192.6 971.3 193.7 975.4C194.8 979.5 196.2 983.9 197.2 983.6C198.2 983.4 198.6 977.2 199.5 973.9C200.4 970.6 201.5 965.7 202.4 963.7C203.3 961.8 204.0 961.2 204.8 962.2C205.6 963.2 206.6 967.5 207.4 969.5C208.2 971.5 208.9 974.5 209.8 974.5C210.7 974.5 211.5 972.5 212.7 969.5C213.9 966.5 215.6 959.9 217.1 956.3C218.6 952.7 220.3 949.6 221.5 948.1C222.7 946.6 223.2 946.6 224.4 947.0C225.6 947.4 227.5 949.8 228.8 950.5C230.1 951.2 231.2 952.4 232.3 951.4C233.4 950.4 234.2 947.0 235.2 944.6C236.2 942.2 237.2 938.8 238.1 937.3C239.0 935.8 239.6 935.0 240.5 935.3C241.4 935.5 242.2 936.0 243.4 938.8C244.6 941.6 246.3 947.8 247.8 951.9C249.3 956.0 250.9 960.6 252.2 963.7C253.5 966.8 254.7 969.0 255.7 970.4C256.7 971.8 257.2 972.4 258.0 971.8C258.8 971.2 259.5 969.7 260.4 966.6C261.3 963.5 262.3 956.8 263.3 953.4C264.3 950.0 265.2 947.5 266.2 946.1C267.2 944.7 268.1 944.9 269.2 945.2C270.3 945.5 271.1 947.2 272.7 948.1C274.2 949.0 276.8 949.9 278.5 950.5C280.2 951.1 281.5 950.5 282.9 952.0C284.3 953.5 285.6 957.5 286.7 959.3C287.8 961.1 288.6 962.8 289.4 962.8C290.2 962.8 290.8 962.3 291.7 959.3C292.6 956.3 293.6 949.0 294.6 944.6C295.6 940.2 296.8 935.2 297.6 932.9C298.4 930.6 298.9 930.4 299.6 930.9C300.3 931.4 301.1 933.4 302.0 935.9C302.9 938.4 303.8 943.6 304.9 946.1C306.0 948.6 306.9 950.4 308.4 951.1C309.9 951.8 311.8 951.0 313.7 950.5C315.6 950.0 317.6 949.4 319.5 948.4C321.4 947.4 323.4 946.7 325.4 944.6C327.3 942.5 329.2 939.3 331.2 935.9C333.1 932.5 335.2 928.2 337.1 924.1C339.1 920.0 341.2 914.4 342.9 911.0C344.6 907.6 345.9 905.7 347.3 903.7C348.7 901.8 349.9 899.7 351.1 899.3C352.3 898.9 353.3 899.6 354.6 901.3C355.9 903.0 357.5 906.9 359.0 909.5C360.5 912.1 361.7 914.6 363.4 916.8C365.1 919.0 367.4 921.2 369.3 922.7C371.2 924.2 373.6 925.0 375.1 925.6C376.7 926.2 377.4 927.2 378.6 926.5C379.8 925.8 381.3 923.1 382.4 921.2C383.5 919.4 384.5 916.8 385.4 915.4C386.3 914.0 387.2 912.2 388.0 913.0C388.8 913.8 389.4 915.1 390.3 920.0C391.2 924.9 392.2 935.2 393.2 942.4C394.2 949.5 395.1 957.5 396.1 962.9C397.1 968.3 397.8 971.4 399.0 974.6C400.2 977.8 401.7 979.5 403.4 982.0C405.1 984.5 407.6 987.6 409.3 989.3C411.0 991.0 412.5 992.2 413.7 992.2C414.9 992.2 415.6 991.7 416.6 989.3C417.6 986.9 418.5 983.0 419.5 977.6C420.5 972.2 421.4 962.7 422.4 957.1C423.4 951.5 424.5 946.6 425.4 943.9C426.3 941.2 426.7 940.9 427.7 941.0C428.7 941.1 429.6 942.8 431.2 944.8C432.8 946.8 435.2 950.8 437.1 952.7C439.1 954.7 441.2 956.2 442.9 956.5C444.6 956.8 445.8 955.2 447.3 954.7C448.8 954.2 450.0 953.0 451.7 953.6C453.4 954.2 455.4 957.0 457.6 958.5C459.8 960.0 462.2 961.6 464.9 962.9C467.6 964.2 471.3 966.1 473.7 966.4C476.1 966.6 477.3 965.7 479.5 964.4C481.7 963.1 484.4 960.7 486.8 958.5C489.2 956.3 491.9 952.9 494.1 951.2C496.3 949.5 497.8 948.5 500.0 948.3C502.2 948.1 505.1 948.8 507.3 949.8C509.5 950.8 511.5 952.4 513.2 954.1C514.9 955.8 516.5 958.8 517.6 960.0C518.7 961.2 519.0 962.2 519.9 961.5C520.8 960.8 521.7 958.5 522.8 955.6C523.9 952.7 524.7 947.3 526.3 943.9C527.9 940.5 530.0 937.4 532.2 935.1C534.4 932.8 537.3 932.3 539.5 930.1C541.7 927.9 543.7 924.6 545.4 922.0C547.1 919.4 548.6 916.3 549.8 914.6C551.0 912.9 551.5 911.6 552.7 911.7C553.9 911.9 555.6 914.2 557.1 915.5C558.6 916.8 560.0 918.6 561.5 919.6C563.0 920.6 564.4 921.6 565.9 921.4C567.4 921.2 568.8 919.8 570.2 918.4C571.7 917.0 573.2 914.2 574.6 913.2C576.0 912.2 577.2 911.9 578.4 912.6C579.6 913.3 580.4 914.8 582.0 917.6C583.6 920.4 585.8 925.6 587.8 929.3C589.8 932.9 591.8 937.1 593.7 939.5C595.7 941.9 597.8 942.5 599.5 943.9C601.2 945.3 602.4 945.8 603.9 947.7C605.4 949.7 606.6 952.8 608.3 955.6C610.0 958.4 612.1 961.8 614.1 964.4C616.1 967.0 618.3 969.6 620.0 971.1C621.7 972.6 622.9 973.2 624.4 973.2C625.9 973.2 627.3 972.1 628.8 971.1C630.3 970.1 631.7 968.1 633.2 967.3C634.7 966.5 636.1 966.2 637.6 966.4C639.1 966.5 640.8 967.8 642.0 968.2C643.2 968.6 643.8 969.4 644.9 968.8C646.0 968.2 647.2 966.3 648.7 964.4C650.2 962.5 652.2 958.7 653.7 957.1C655.2 955.5 656.3 955.1 658.0 954.7C659.7 954.3 661.9 954.6 663.9 954.7C665.9 954.9 668.1 955.8 669.8 955.6C671.5 955.4 672.4 954.4 674.1 953.6C675.8 952.8 678.1 950.9 679.9 950.6C681.7 950.3 683.1 951.1 684.9 951.8C686.7 952.5 688.9 953.8 690.7 954.7C692.6 955.6 694.3 957.1 696.0 957.1C697.7 957.1 699.2 955.8 701.0 954.7C702.8 953.6 704.8 951.5 706.8 950.6C708.8 949.7 710.5 949.3 712.7 949.2C714.9 949.1 717.6 949.7 720.0 950.0C722.4 950.3 725.1 951.2 727.3 951.2C729.5 951.2 731.2 951.0 733.2 949.8C735.2 948.6 737.0 946.3 739.0 943.9C741.0 941.5 743.2 937.4 744.9 935.1C746.6 932.8 747.8 931.2 749.3 930.1C750.8 929.0 752.0 928.3 753.7 928.4C755.4 928.5 757.5 930.1 759.5 930.7C761.5 931.3 763.7 932.4 765.4 932.2C767.1 932.0 768.3 931.0 769.8 929.3C771.2 927.6 772.6 923.7 774.1 922.0C775.6 920.3 777.0 919.1 778.5 919.0C780.0 918.9 781.2 920.2 782.9 921.4C784.6 922.6 786.8 924.6 788.8 926.3C790.8 927.9 792.6 930.2 794.6 931.3C796.6 932.4 798.8 932.5 800.5 933.1C802.2 933.7 803.4 934.0 804.9 935.1C806.4 936.2 807.6 938.2 809.3 939.5C811.0 940.8 813.1 942.3 815.1 943.0C817.1 943.7 819.0 943.6 821.0 943.9C823.0 944.2 825.1 944.1 826.8 944.8C828.5 945.5 829.7 946.5 831.2 948.3C832.7 950.1 834.1 953.2 835.6 955.6C837.1 958.0 838.5 960.8 840.0 962.9C841.5 965.0 842.9 966.9 844.4 968.2C845.9 969.5 847.1 970.2 848.8 970.8C850.5 971.4 852.6 971.4 854.6 971.7C856.6 972.0 858.8 972.7 860.5 972.6C862.2 972.5 863.2 972.0 864.9 971.1C866.6 970.2 868.8 968.9 870.7 967.3C872.7 965.7 874.7 963.5 876.6 961.5C878.5 959.5 880.5 957.1 882.4 955.6C884.3 954.1 886.3 953.5 888.3 952.7C890.2 951.9 892.4 951.4 894.1 950.6C895.8 949.8 897.0 948.8 898.5 947.7C900.0 946.6 901.8 944.7 902.9 943.9C904.0 943.1 904.3 942.8 905.3 943.0C906.3 943.2 907.5 944.4 908.8 945.4C910.1 946.4 911.5 947.9 913.2 948.9C914.9 949.9 916.7 950.7 919.0 951.2C921.3 951.7 925.8 951.7 927.2 951.8" fill="none" stroke="#1a1a1a" stroke-width="2.4" stroke-linejoin="round"/>
</g>
<g stroke="#231f20" stroke-width="2.3" fill="none">
<path d="M142.0 753.5L161.7 630.7L173.7 377.0L186.1 322.3L198.3 485.3L221.8 602.1L259.7 660.4L344.2 730.5"/>
<path d="M130.3 753.5H153.7M130.3 748.9v9.2M153.7 748.9v9.2M150.0 630.7H173.4M150.0 626.1v9.2M173.4 626.1v9.2M162.0 377.0H185.4M162.0 372.4v9.2M185.4 372.4v9.2M174.4 322.3H197.8M174.4 317.7v9.2M197.8 317.7v9.2M186.6 485.3H210.0M186.6 480.7v9.2M210.0 480.7v9.2M210.1 602.1H233.5M210.1 597.5v9.2M233.5 597.5v9.2M248.0 660.4H271.4M248.0 655.8v9.2M271.4 655.8v9.2M332.5 730.5H355.9M332.5 725.9v9.2M355.9 725.9v9.2M387.6 625.2H441.5M387.6 620.6v9.2M441.5 620.6v9.2M802.3 700.0H926.8M802.3 695.4v9.2"/>
<circle cx="142.0" cy="753.5" r="6.2" stroke-width="2.5"/>
<circle cx="161.7" cy="630.7" r="6.2" stroke-width="2.5"/>
<circle cx="173.7" cy="377.0" r="6.2" stroke-width="2.5"/>
<circle cx="186.1" cy="322.3" r="6.2" stroke-width="2.5"/>
<circle cx="198.3" cy="485.3" r="6.2" stroke-width="2.5"/>
<circle cx="221.8" cy="602.1" r="6.2" stroke-width="2.5"/>
<circle cx="259.7" cy="660.4" r="6.2" stroke-width="2.5"/>
<circle cx="344.2" cy="730.5" r="6.2" stroke-width="2.5"/>
<circle cx="414.6" cy="625.2" r="6.2" stroke-width="2.5"/>
<circle cx="907.9" cy="700.0" r="6.2" stroke-width="2.5"/>
</g>
<g stroke="#231f20" stroke-width="2.1" fill="none" stroke-linecap="butt">
<rect x="82.6" y="0.9" width="844.2" height="997.3"/>
<path d="M82.6 48.2h13.4M82.6 95.2h9.9M82.6 142.3h13.4M82.6 189.3h9.9M82.6 236.4h13.4M82.6 283.4h9.9M82.6 330.4h13.4M82.6 377.5h9.9M82.6 424.5h9.9M82.6 471.6h9.9M82.6 518.6h9.9M82.6 565.6h9.9M82.6 950.5h13.4M82.6 902.8h9.9M82.6 855.1h13.4M82.6 807.4h9.9M82.6 759.7h13.4M82.6 712.0h9.9M82.6 664.3h9.9M82.6 616.6h9.9M926.8 48.2h-9.9M926.8 95.2h-9.9M926.8 142.3h-9.9M926.8 189.3h-9.9M926.8 236.4h-9.9M926.8 283.3h-13.4M926.8 330.9h-9.9M926.8 378.5h-13.4M926.8 426.2h-9.9M926.8 473.8h-13.4M926.8 521.4h-9.9M926.8 569.0h-13.4M926.8 616.6h-9.9M926.8 664.3h-13.4M926.8 711.9h-9.9M926.8 759.5h-13.4M926.8 807.4h-9.9M926.8 855.1h-9.9M926.8 902.8h-9.9M122.4 0.9v5.9M122.4 998.2v-5.9M202.8 0.9v5.9M202.8 998.2v-5.9M283.2 0.9v5.9M283.2 998.2v-5.9M363.6 0.9v5.9M363.6 998.2v-5.9M444.0 0.9v5.9M444.0 998.2v-5.9M524.4 0.9v5.9M524.4 998.2v-5.9M604.8 0.9v5.9M604.8 998.2v-5.9M685.2 0.9v5.9M685.2 998.2v-5.9M765.6 0.9v5.9M765.6 998.2v-5.9M846.0 0.9v5.9M846.0 998.2v-5.9" stroke-width="1.8"/>
</g>
<g font-family="'Liberation Sans', Arial, Helvetica, sans-serif" fill="#231f20">
<g font-size="34.9" text-anchor="middle">
<text x="122.2" y="1030.4">0</text>
<text x="202.6" y="1030.4">20</text>
<text x="283.0" y="1030.4">40</text>
<text x="363.4" y="1030.4">60</text>
<text x="443.8" y="1030.4">80</text>
<text x="524.2" y="1030.4">100</text>
<text x="604.6" y="1030.4">120</text>
<text x="685.0" y="1030.4">140</text>
<text x="765.4" y="1030.4">160</text>
<text x="845.8" y="1030.4">180</text>
<text x="926.2" y="1030.4">200</text>
</g>
<g font-size="34.9" text-anchor="end">
<text x="78.3" y="60.8">20</text>
<text x="78.3" y="154.9">10</text>
<text x="78.3" y="249.0">0</text>
<text x="78.3" y="343.0">-10</text>
<text x="78.3" y="772.3">4</text>
<text x="78.3" y="867.7">2</text>
<text x="78.3" y="963.1">0</text>
</g>
<g font-size="34.2" text-anchor="start">
<text x="929.6" y="295.5">1.0</text>
<text x="929.6" y="390.7">0.8</text>
<text x="929.6" y="486.0">0.6</text>
<text x="929.6" y="581.2">0.4</text>
<text x="929.6" y="676.5">0.2</text>
<text x="929.6" y="771.7">0.0</text>
</g>
<g font-size="42">
<text x="411.4" y="1071.2">Time / ns</text>
<text transform="translate(31 318.6) rotate(-90) scale(1 1.03)">Voltage / kV</text>
<text transform="translate(31 994.2) rotate(-90) scale(1 1.03)">Estimated Power / MW</text>
<text transform="translate(1016.3 732) rotate(-90) scale(1 1.03)">Relative Intensity / a.u.</text>
</g></g>
</svg>
</body></html>
